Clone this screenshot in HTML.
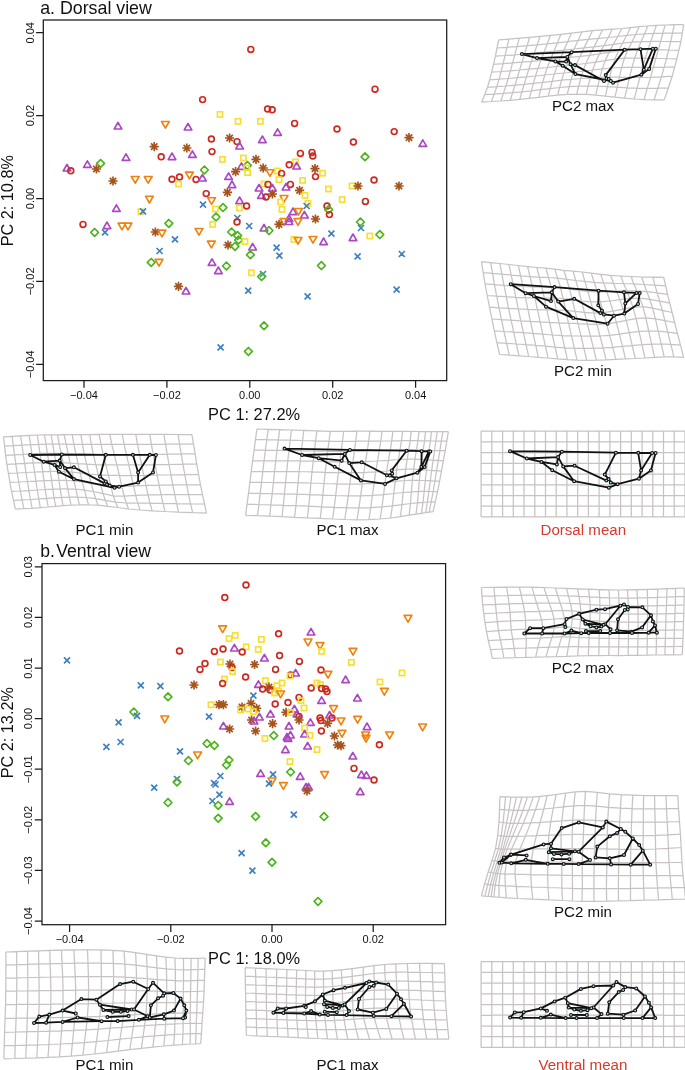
<!DOCTYPE html>
<html lang="en"><head><meta charset="utf-8"><title>PCA of dorsal and ventral views</title>
<style>
html,body{margin:0;padding:0;background:#fff}
body{width:685px;height:1070px;overflow:hidden}
svg{display:block;font-family:"Liberation Sans",Arial,Helvetica,sans-serif}
.ax{stroke:#1c1c1c;stroke-width:1.25;fill:none}
.pts *{fill:none;stroke-width:1.65}
.pts path{stroke-linejoin:round}
.grid{stroke:#c7c3c2;stroke-width:1.25;fill:none}
.wire{stroke:#111;stroke-width:1.8;fill:none;stroke-linecap:round}
.lm circle{fill:#a9dbe3;stroke:#111;stroke-width:1.1}
</style></head><body>
<svg width="685" height="1070" viewBox="0 0 685 1070">
<rect width="685" height="1070" fill="#fff"/>
<rect class="ax" x="43.3" y="20" width="403.4" height="360.6"/>
<path class="ax" d="M84.0 380.6V387.8M166.9 380.6V387.8M249.8 380.6V387.8M332.7 380.6V387.8M415.6 380.6V387.8M43.3 32.7H36.1M43.3 115.6H36.1M43.3 198.5H36.1M43.3 281.4H36.1M43.3 364.3H36.1"/>
<text x="84.0" y="398.7" font-size="11" text-anchor="middle" fill="#111">−0.04</text>
<text x="166.9" y="398.7" font-size="11" text-anchor="middle" fill="#111">−0.02</text>
<text x="249.8" y="398.7" font-size="11" text-anchor="middle" fill="#111">0.00</text>
<text x="332.7" y="398.7" font-size="11" text-anchor="middle" fill="#111">0.02</text>
<text x="415.6" y="398.7" font-size="11" text-anchor="middle" fill="#111">0.04</text>
<text x="33.6" y="32.7" font-size="11" text-anchor="middle" fill="#111" transform="rotate(-90 33.6 32.7)">0.04</text>
<text x="33.6" y="115.6" font-size="11" text-anchor="middle" fill="#111" transform="rotate(-90 33.6 115.6)">0.02</text>
<text x="33.6" y="198.5" font-size="11" text-anchor="middle" fill="#111" transform="rotate(-90 33.6 198.5)">0.00</text>
<text x="33.6" y="281.4" font-size="11" text-anchor="middle" fill="#111" transform="rotate(-90 33.6 281.4)">−0.02</text>
<text x="33.6" y="364.3" font-size="11" text-anchor="middle" fill="#111" transform="rotate(-90 33.6 364.3)">−0.04</text>
<text x="40.2" y="13.9" font-size="17.8" text-anchor="start" fill="#111">a. Dorsal view</text>
<text x="254.1" y="419.8" font-size="16.4" text-anchor="middle" fill="#111" textLength="92.0" lengthAdjust="spacingAndGlyphs">PC 1: 27.2%</text>
<text x="13.1" y="200.7" font-size="16.4" text-anchor="middle" fill="#111" transform="rotate(-90 13.1 200.7)" textLength="91.2" lengthAdjust="spacingAndGlyphs">PC 2: 10.8%</text>
<g class="pts">
<circle cx="250.8" cy="49.4" r="2.9" stroke="#cb2a20"/>
<circle cx="202.6" cy="99.6" r="2.9" stroke="#cb2a20"/>
<circle cx="267.6" cy="109.0" r="2.9" stroke="#cb2a20"/>
<circle cx="272.2" cy="109.8" r="2.9" stroke="#cb2a20"/>
<rect x="217.4" y="111.8" width="5.2" height="5.2" stroke="#f6df2f"/>
<rect x="235.4" y="118.7" width="5.2" height="5.2" stroke="#f6df2f"/>
<rect x="257.8" y="118.7" width="5.2" height="5.2" stroke="#f6df2f"/>
<circle cx="375.0" cy="89.2" r="2.9" stroke="#cb2a20"/>
<path d="M118.0 122.4L121.8 129.0L114.2 129.0Z" stroke="#ab47c2"/>
<path d="M165.4 128.2L169.3 121.5L161.5 121.5Z" stroke="#f0820f"/>
<path d="M149.6 146.6H158.8M154.2 142.0V151.2M151.0 143.4L157.4 149.8M151.0 149.8L157.4 143.4" stroke="#a5541c" stroke-width="1.55"/>
<circle cx="161.2" cy="156.8" r="2.9" stroke="#cb2a20"/>
<path d="M172.0 153.0L175.8 159.6L168.2 159.6Z" stroke="#ab47c2"/>
<path d="M126.0 153.8L129.8 160.4L122.2 160.4Z" stroke="#ab47c2"/>
<path d="M100.6 159.5L104.5 163.4L100.6 167.3L96.7 163.4Z" stroke="#4db51b"/>
<path d="M87.4 160.8L91.2 167.4L83.6 167.4Z" stroke="#ab47c2"/>
<path d="M67.0 164.4L70.8 171.0L63.2 171.0Z" stroke="#ab47c2"/>
<circle cx="70.8" cy="170.8" r="2.9" stroke="#cb2a20"/>
<path d="M91.8 169.0H101.0M96.4 164.4V173.6M93.2 165.8L99.6 172.2M93.2 172.2L99.6 165.8" stroke="#a5541c" stroke-width="1.55"/>
<path d="M108.4 181.0H117.6M113.0 176.4V185.6M109.8 177.8L116.2 184.2M109.8 184.2L116.2 177.8" stroke="#a5541c" stroke-width="1.55"/>
<path d="M135.2 183.2L139.1 176.5L131.3 176.5Z" stroke="#f0820f"/>
<path d="M148.2 183.2L152.1 176.5L144.3 176.5Z" stroke="#f0820f"/>
<circle cx="172.0" cy="179.2" r="2.9" stroke="#cb2a20"/>
<circle cx="179.5" cy="177.0" r="2.9" stroke="#cb2a20"/>
<rect x="175.9" y="181.4" width="5.2" height="5.2" stroke="#f6df2f"/>
<path d="M149.4 203.0L153.3 196.2L145.5 196.2Z" stroke="#f0820f"/>
<path d="M116.4 204.8L120.2 211.4L112.6 211.4Z" stroke="#ab47c2"/>
<rect x="138.2" y="209.2" width="5.2" height="5.2" stroke="#f6df2f"/>
<path d="M140.0 208.4L146.0 214.4M140.0 214.4L146.0 208.4" stroke="#3d7fbf"/>
<circle cx="294.6" cy="123.4" r="2.9" stroke="#cb2a20"/>
<path d="M188.0 123.4L191.8 130.0L184.2 130.0Z" stroke="#ab47c2"/>
<path d="M277.6 128.8L281.4 135.4L273.8 135.4Z" stroke="#ab47c2"/>
<circle cx="211.4" cy="139.0" r="2.9" stroke="#cb2a20"/>
<path d="M225.0 138.0H234.2M229.6 133.4V142.6M226.4 134.8L232.8 141.2M226.4 141.2L232.8 134.8" stroke="#a5541c" stroke-width="1.55"/>
<circle cx="237.0" cy="141.6" r="2.9" stroke="#cb2a20"/>
<path d="M262.4 136.0L266.2 142.6L258.6 142.6Z" stroke="#ab47c2"/>
<path d="M239.6 142.4L243.4 149.0L235.8 149.0Z" stroke="#ab47c2"/>
<path d="M182.2 148.0H191.4M186.8 143.4V152.6M183.6 144.8L190.0 151.2M183.6 151.2L190.0 144.8" stroke="#a5541c" stroke-width="1.55"/>
<circle cx="212.0" cy="151.6" r="2.9" stroke="#cb2a20"/>
<path d="M192.4 150.8L196.2 157.4L188.6 157.4Z" stroke="#ab47c2"/>
<circle cx="300.4" cy="153.4" r="2.9" stroke="#cb2a20"/>
<circle cx="312.0" cy="152.4" r="2.9" stroke="#cb2a20"/>
<circle cx="312.8" cy="156.0" r="2.9" stroke="#cb2a20"/>
<rect x="219.8" y="156.8" width="5.2" height="5.2" stroke="#f6df2f"/>
<rect x="240.8" y="155.4" width="5.2" height="5.2" stroke="#f6df2f"/>
<path d="M251.4 159.4H260.6M256.0 154.8V164.0M252.8 156.2L259.2 162.6M252.8 162.6L259.2 156.2" stroke="#a5541c" stroke-width="1.55"/>
<rect x="292.8" y="159.4" width="5.2" height="5.2" stroke="#f6df2f"/>
<circle cx="289.2" cy="164.8" r="2.9" stroke="#cb2a20"/>
<path d="M296.6 162.4L300.4 169.0L292.8 169.0Z" stroke="#ab47c2"/>
<path d="M247.4 161.5L251.3 165.4L247.4 169.3L243.5 165.4Z" stroke="#4db51b"/>
<path d="M241.4 162.8L245.2 169.4L237.6 169.4Z" stroke="#ab47c2"/>
<rect x="244.0" y="165.4" width="5.2" height="5.2" stroke="#f6df2f"/>
<path d="M258.6 168.0H267.8M263.2 163.4V172.6M260.0 164.8L266.4 171.2M260.0 171.2L266.4 164.8" stroke="#a5541c" stroke-width="1.55"/>
<path d="M310.4 168.6H319.6M315.0 164.0V173.2M311.8 165.4L318.2 171.8M311.8 171.8L318.2 165.4" stroke="#a5541c" stroke-width="1.55"/>
<path d="M204.4 166.1L208.3 170.0L204.4 173.9L200.5 170.0Z" stroke="#4db51b"/>
<path d="M231.0 171.6H240.2M235.6 167.0V176.2M232.4 168.4L238.8 174.8M232.4 174.8L238.8 168.4" stroke="#a5541c" stroke-width="1.55"/>
<rect x="245.0" y="170.0" width="5.2" height="5.2" stroke="#f6df2f"/>
<path d="M270.0 176.4L273.9 169.7L266.1 169.7Z" stroke="#f0820f"/>
<rect x="274.8" y="168.4" width="5.2" height="5.2" stroke="#f6df2f"/>
<circle cx="281.6" cy="173.4" r="2.9" stroke="#cb2a20"/>
<path d="M189.4 178.8L193.3 172.1L185.5 172.1Z" stroke="#f0820f"/>
<circle cx="196.0" cy="179.4" r="2.9" stroke="#cb2a20"/>
<path d="M202.4 174.4L206.2 181.0L198.6 181.0Z" stroke="#ab47c2"/>
<path d="M228.6 172.8L232.4 179.4L224.8 179.4Z" stroke="#ab47c2"/>
<circle cx="315.5" cy="176.6" r="2.9" stroke="#cb2a20"/>
<rect x="276.4" y="177.0" width="5.2" height="5.2" stroke="#f6df2f"/>
<rect x="300.0" y="177.8" width="5.2" height="5.2" stroke="#f6df2f"/>
<path d="M232.0 181.0L235.8 187.6L228.2 187.6Z" stroke="#ab47c2"/>
<rect x="261.4" y="181.4" width="5.2" height="5.2" stroke="#f6df2f"/>
<circle cx="268.0" cy="184.4" r="2.9" stroke="#cb2a20"/>
<circle cx="290.4" cy="184.4" r="2.9" stroke="#cb2a20"/>
<path d="M259.0 184.4L262.8 191.0L255.2 191.0Z" stroke="#ab47c2"/>
<path d="M272.4 184.4L276.2 191.0L268.6 191.0Z" stroke="#ab47c2"/>
<path d="M286.0 183.4L289.8 190.0L282.2 190.0Z" stroke="#ab47c2"/>
<path d="M295.0 190.4H304.2M299.6 185.8V195.0M296.4 187.2L302.8 193.6M296.4 193.6L302.8 187.2" stroke="#a5541c" stroke-width="1.55"/>
<path d="M222.8 192.4H232.0M227.4 187.8V197.0M224.2 189.2L230.6 195.6M224.2 195.6L230.6 189.2" stroke="#a5541c" stroke-width="1.55"/>
<circle cx="206.2" cy="193.6" r="2.9" stroke="#cb2a20"/>
<path d="M267.8 194.0H277.0M272.4 189.4V198.6M269.2 190.8L275.6 197.2M269.2 197.2L275.6 190.8" stroke="#a5541c" stroke-width="1.55"/>
<path d="M261.4 191.8L265.2 198.4L257.6 198.4Z" stroke="#ab47c2"/>
<circle cx="266.0" cy="197.0" r="2.9" stroke="#cb2a20"/>
<rect x="302.4" y="192.8" width="5.2" height="5.2" stroke="#f6df2f"/>
<path d="M284.0 202.2L287.9 195.5L280.1 195.5Z" stroke="#f0820f"/>
<path d="M211.6 204.4L215.5 197.7L207.7 197.7Z" stroke="#f0820f"/>
<path d="M239.6 197.0L243.4 203.6L235.8 203.6Z" stroke="#ab47c2"/>
<rect x="278.0" y="199.4" width="5.2" height="5.2" stroke="#f6df2f"/>
<rect x="305.4" y="200.8" width="5.2" height="5.2" stroke="#f6df2f"/>
<path d="M200.0 201.6L206.0 207.6M200.0 207.6L206.0 201.6" stroke="#3d7fbf"/>
<path d="M303.6 203.0L309.6 209.0M303.6 209.0L309.6 203.0" stroke="#3d7fbf"/>
<circle cx="246.6" cy="206.0" r="2.9" stroke="#cb2a20"/>
<rect x="236.8" y="205.4" width="5.2" height="5.2" stroke="#f6df2f"/>
<path d="M223.0 203.7L226.9 207.6L223.0 211.5L219.1 207.6Z" stroke="#4db51b"/>
<rect x="212.8" y="206.4" width="5.2" height="5.2" stroke="#f6df2f"/>
<rect x="279.4" y="206.8" width="5.2" height="5.2" stroke="#f6df2f"/>
<path d="M293.0 208.0L296.8 214.6L289.2 214.6Z" stroke="#ab47c2"/>
<path d="M298.4 215.2L302.3 208.5L294.5 208.5Z" stroke="#f0820f"/>
<path d="M304.4 211.4L308.2 218.0L300.6 218.0Z" stroke="#ab47c2"/>
<path d="M216.0 213.1L219.9 217.0L216.0 220.9L212.1 217.0Z" stroke="#4db51b"/>
<path d="M234.4 215.0L240.4 221.0M234.4 221.0L240.4 215.0" stroke="#3d7fbf"/>
<path d="M289.0 214.8L292.8 221.4L285.2 221.4Z" stroke="#ab47c2"/>
<path d="M310.9 219.0H320.1M315.5 214.4V223.6M312.3 215.8L318.7 222.2M312.3 222.2L318.7 215.8" stroke="#a5541c" stroke-width="1.55"/>
<path d="M284.0 225.3L287.9 218.6L280.1 218.6Z" stroke="#f0820f"/>
<path d="M298.0 225.3L301.9 218.6L294.1 218.6Z" stroke="#f0820f"/>
<circle cx="337.0" cy="129.0" r="2.9" stroke="#cb2a20"/>
<circle cx="394.2" cy="131.6" r="2.9" stroke="#cb2a20"/>
<path d="M404.4 137.6H413.6M409.0 133.0V142.2M405.8 134.4L412.2 140.8M405.8 140.8L412.2 134.4" stroke="#a5541c" stroke-width="1.55"/>
<path d="M422.8 139.8L426.6 146.4L419.0 146.4Z" stroke="#ab47c2"/>
<circle cx="353.4" cy="142.0" r="2.9" stroke="#cb2a20"/>
<path d="M365.0 152.9L368.9 156.8L365.0 160.7L361.1 156.8Z" stroke="#4db51b"/>
<rect x="320.0" y="170.6" width="5.2" height="5.2" stroke="#f6df2f"/>
<circle cx="374.0" cy="180.0" r="2.9" stroke="#cb2a20"/>
<rect x="349.4" y="183.4" width="5.2" height="5.2" stroke="#f6df2f"/>
<path d="M353.4 186.0H362.6M358.0 181.4V190.6M354.8 182.8L361.2 189.2M354.8 189.2L361.2 182.8" stroke="#a5541c" stroke-width="1.55"/>
<path d="M394.4 186.0H403.6M399.0 181.4V190.6M395.8 182.8L402.2 189.2M395.8 189.2L402.2 182.8" stroke="#a5541c" stroke-width="1.55"/>
<rect x="325.8" y="186.4" width="5.2" height="5.2" stroke="#f6df2f"/>
<rect x="339.6" y="197.0" width="5.2" height="5.2" stroke="#f6df2f"/>
<circle cx="365.4" cy="201.4" r="2.9" stroke="#cb2a20"/>
<circle cx="327.0" cy="206.0" r="2.9" stroke="#cb2a20"/>
<path d="M328.6 205.7L332.5 209.6L328.6 213.5L324.7 209.6Z" stroke="#4db51b"/>
<circle cx="329.4" cy="214.6" r="2.9" stroke="#cb2a20"/>
<path d="M360.4 218.1L364.3 222.0L360.4 225.9L356.5 222.0Z" stroke="#4db51b"/>
<circle cx="83.0" cy="224.4" r="2.9" stroke="#cb2a20"/>
<path d="M94.6 228.5L98.5 232.4L94.6 236.3L90.7 232.4Z" stroke="#4db51b"/>
<path d="M102.0 229.4L108.0 235.4M102.0 235.4L108.0 229.4" stroke="#3d7fbf"/>
<path d="M107.0 222.0L110.8 228.6L103.2 228.6Z" stroke="#ab47c2"/>
<path d="M122.0 229.8L125.9 223.1L118.1 223.1Z" stroke="#f0820f"/>
<path d="M128.0 229.8L131.9 223.1L124.1 223.1Z" stroke="#f0820f"/>
<path d="M168.8 219.5L172.7 223.4L168.8 227.3L164.9 223.4Z" stroke="#4db51b"/>
<path d="M150.8 232.0H160.0M155.4 227.4V236.6M152.2 228.8L158.6 235.2M152.2 235.2L158.6 228.8" stroke="#a5541c" stroke-width="1.55"/>
<path d="M162.0 236.8L165.9 230.1L158.1 230.1Z" stroke="#f0820f"/>
<path d="M172.0 236.4L178.0 242.4M172.0 242.4L178.0 236.4" stroke="#3d7fbf"/>
<path d="M156.6 248.0L162.6 254.0M156.6 254.0L162.6 248.0" stroke="#3d7fbf"/>
<path d="M151.2 258.5L155.1 262.4L151.2 266.3L147.3 262.4Z" stroke="#4db51b"/>
<path d="M159.0 266.2L162.9 259.4L155.1 259.4Z" stroke="#f0820f"/>
<path d="M173.9 286.4H183.1M178.5 281.8V291.0M175.3 283.2L181.7 289.6M175.3 289.6L181.7 283.2" stroke="#a5541c" stroke-width="1.55"/>
<rect x="210.0" y="221.8" width="5.2" height="5.2" stroke="#f6df2f"/>
<circle cx="237.0" cy="222.0" r="2.9" stroke="#cb2a20"/>
<path d="M246.2 223.0L252.2 229.0M246.2 229.0L252.2 223.0" stroke="#3d7fbf"/>
<path d="M264.0 224.4L267.8 231.0L260.2 231.0Z" stroke="#ab47c2"/>
<path d="M269.0 226.7L272.9 230.6L269.0 234.5L265.1 230.6Z" stroke="#4db51b"/>
<path d="M274.4 224.4H283.6M279.0 219.8V229.0M275.8 221.2L282.2 227.6M275.8 227.6L282.2 221.2" stroke="#a5541c" stroke-width="1.55"/>
<path d="M289.0 217.9L292.8 224.5L285.2 224.5Z" stroke="#ab47c2"/>
<path d="M199.0 235.2L202.9 228.5L195.1 228.5Z" stroke="#f0820f"/>
<path d="M231.6 228.1L235.5 232.0L231.6 235.9L227.7 232.0Z" stroke="#4db51b"/>
<path d="M237.6 231.7L241.5 235.6L237.6 239.5L233.7 235.6Z" stroke="#4db51b"/>
<path d="M238.6 236.1L242.5 240.0L238.6 243.9L234.7 240.0Z" stroke="#4db51b"/>
<rect x="242.4" y="239.0" width="5.2" height="5.2" stroke="#f6df2f"/>
<path d="M211.4 247.8L215.3 241.1L207.5 241.1Z" stroke="#f0820f"/>
<path d="M223.4 245.0H232.6M228.0 240.4V249.6M224.8 241.8L231.2 248.2M224.8 248.2L231.2 241.8" stroke="#a5541c" stroke-width="1.55"/>
<path d="M235.0 242.5L238.9 246.4L235.0 250.3L231.1 246.4Z" stroke="#4db51b"/>
<path d="M252.6 243.4L256.4 250.0L248.8 250.0Z" stroke="#ab47c2"/>
<rect x="291.4" y="236.8" width="5.2" height="5.2" stroke="#f6df2f"/>
<path d="M298.0 244.2L301.9 237.5L294.1 237.5Z" stroke="#f0820f"/>
<path d="M313.0 243.2L316.9 236.5L309.1 236.5Z" stroke="#f0820f"/>
<path d="M273.6 244.6L279.6 250.6M273.6 250.6L279.6 244.6" stroke="#3d7fbf"/>
<path d="M276.4 252.6L282.4 258.6M276.4 258.6L282.4 252.6" stroke="#3d7fbf"/>
<path d="M250.4 250.9L254.3 254.8L250.4 258.7L246.5 254.8Z" stroke="#4db51b"/>
<path d="M212.0 258.8L215.8 265.4L208.2 265.4Z" stroke="#ab47c2"/>
<path d="M226.4 262.1L230.3 266.0L226.4 269.9L222.5 266.0Z" stroke="#4db51b"/>
<path d="M218.4 267.0L222.2 273.6L214.6 273.6Z" stroke="#ab47c2"/>
<rect x="248.8" y="270.2" width="5.2" height="5.2" stroke="#f6df2f"/>
<path d="M260.0 271.0L266.0 277.0M260.0 277.0L266.0 271.0" stroke="#3d7fbf"/>
<path d="M261.6 272.7L265.5 276.6L261.6 280.5L257.7 276.6Z" stroke="#4db51b"/>
<path d="M186.0 287.4L189.8 294.0L182.2 294.0Z" stroke="#ab47c2"/>
<path d="M245.2 287.6L251.2 293.6M245.2 293.6L251.2 287.6" stroke="#3d7fbf"/>
<path d="M304.6 293.4L310.6 299.4M304.6 299.4L310.6 293.4" stroke="#3d7fbf"/>
<path d="M358.0 225.0L364.0 231.0M358.0 231.0L364.0 225.0" stroke="#3d7fbf"/>
<path d="M328.4 230.6L334.4 236.6M328.4 236.6L334.4 230.6" stroke="#3d7fbf"/>
<path d="M353.0 234.0L356.8 240.6L349.2 240.6Z" stroke="#ab47c2"/>
<rect x="367.2" y="233.4" width="5.2" height="5.2" stroke="#f6df2f"/>
<path d="M379.8 230.7L383.7 234.6L379.8 238.5L375.9 234.6Z" stroke="#4db51b"/>
<path d="M323.6 238.0L327.4 244.6L319.8 244.6Z" stroke="#ab47c2"/>
<path d="M354.6 253.4L360.6 259.4M354.6 259.4L360.6 253.4" stroke="#3d7fbf"/>
<path d="M398.8 251.0L404.8 257.0M398.8 257.0L404.8 251.0" stroke="#3d7fbf"/>
<path d="M321.4 261.7L325.3 265.6L321.4 269.5L317.5 265.6Z" stroke="#4db51b"/>
<path d="M393.6 286.6L399.6 292.6M393.6 292.6L399.6 286.6" stroke="#3d7fbf"/>
<path d="M264.0 321.9L267.9 325.8L264.0 329.7L260.1 325.8Z" stroke="#4db51b"/>
<path d="M217.6 344.4L223.6 350.4M217.6 350.4L223.6 344.4" stroke="#3d7fbf"/>
<path d="M248.4 347.5L252.3 351.4L248.4 355.3L244.5 351.4Z" stroke="#4db51b"/>
</g>
<rect class="ax" x="42" y="563.6" width="403.6" height="361.1"/>
<path class="ax" d="M69.6 924.7V931.9M170.8 924.7V931.9M272.0 924.7V931.9M373.2 924.7V931.9M42 566.8H34.8M42 617.4H34.8M42 668.0H34.8M42 718.6H34.8M42 769.2H34.8M42 819.8H34.8M42 870.4H34.8M42 921.0H34.8"/>
<text x="69.6" y="943.0" font-size="11" text-anchor="middle" fill="#111">−0.04</text>
<text x="170.8" y="943.0" font-size="11" text-anchor="middle" fill="#111">−0.02</text>
<text x="272.0" y="943.0" font-size="11" text-anchor="middle" fill="#111">0.00</text>
<text x="373.2" y="943.0" font-size="11" text-anchor="middle" fill="#111">0.02</text>
<text x="32.4" y="566.8" font-size="11" text-anchor="middle" fill="#111" transform="rotate(-90 32.4 566.8)">0.03</text>
<text x="32.4" y="617.4" font-size="11" text-anchor="middle" fill="#111" transform="rotate(-90 32.4 617.4)">0.02</text>
<text x="32.4" y="668.0" font-size="11" text-anchor="middle" fill="#111" transform="rotate(-90 32.4 668.0)">0.01</text>
<text x="32.4" y="718.6" font-size="11" text-anchor="middle" fill="#111" transform="rotate(-90 32.4 718.6)">0.00</text>
<text x="32.4" y="769.2" font-size="11" text-anchor="middle" fill="#111" transform="rotate(-90 32.4 769.2)">−0.01</text>
<text x="32.4" y="819.8" font-size="11" text-anchor="middle" fill="#111" transform="rotate(-90 32.4 819.8)">−0.02</text>
<text x="32.4" y="870.4" font-size="11" text-anchor="middle" fill="#111" transform="rotate(-90 32.4 870.4)">−0.03</text>
<text x="32.4" y="921.0" font-size="11" text-anchor="middle" fill="#111" transform="rotate(-90 32.4 921.0)">−0.04</text>
<text x="40.2" y="556.9" font-size="17.6" fill="#111">b.<tspan dx="-3.6"> Ventral view</tspan></text>
<text x="254.1" y="963.8" font-size="16.4" text-anchor="middle" fill="#111" textLength="92.0" lengthAdjust="spacingAndGlyphs">PC 1: 18.0%</text>
<text x="13.1" y="732.7" font-size="16.4" text-anchor="middle" fill="#111" transform="rotate(-90 13.1 732.7)" textLength="91.2" lengthAdjust="spacingAndGlyphs">PC 2: 13.2%</text>
<g class="pts">
<path d="M64.0 657.4L70.0 663.4M64.0 663.4L70.0 657.4" stroke="#3d7fbf"/>
<circle cx="179.5" cy="651.0" r="2.9" stroke="#cb2a20"/>
<circle cx="246.0" cy="585.0" r="2.9" stroke="#cb2a20"/>
<circle cx="224.8" cy="597.6" r="2.9" stroke="#cb2a20"/>
<path d="M222.6 632.6L226.5 625.8L218.7 625.8Z" stroke="#f0820f"/>
<rect x="232.6" y="632.8" width="5.2" height="5.2" stroke="#f6df2f"/>
<rect x="226.4" y="636.0" width="5.2" height="5.2" stroke="#f6df2f"/>
<circle cx="278.6" cy="633.8" r="2.9" stroke="#cb2a20"/>
<path d="M311.0 628.4L314.8 635.0L307.2 635.0Z" stroke="#ab47c2"/>
<rect x="258.8" y="636.8" width="5.2" height="5.2" stroke="#f6df2f"/>
<path d="M308.0 645.8L311.9 639.0L304.1 639.0Z" stroke="#f0820f"/>
<circle cx="214.4" cy="651.4" r="2.9" stroke="#cb2a20"/>
<circle cx="223.0" cy="649.0" r="2.9" stroke="#cb2a20"/>
<path d="M234.4 644.4L238.2 651.0L230.6 651.0Z" stroke="#ab47c2"/>
<rect x="243.6" y="644.2" width="5.2" height="5.2" stroke="#f6df2f"/>
<circle cx="242.2" cy="652.0" r="2.9" stroke="#cb2a20"/>
<rect x="255.6" y="646.8" width="5.2" height="5.2" stroke="#f6df2f"/>
<path d="M264.4 654.4L268.2 661.0L260.6 661.0Z" stroke="#ab47c2"/>
<circle cx="279.6" cy="655.6" r="2.9" stroke="#cb2a20"/>
<circle cx="299.4" cy="661.4" r="2.9" stroke="#cb2a20"/>
<circle cx="205.0" cy="663.6" r="2.9" stroke="#cb2a20"/>
<rect x="217.8" y="659.4" width="5.2" height="5.2" stroke="#f6df2f"/>
<path d="M225.4 664.0H234.6M230.0 659.4V668.6M226.8 660.8L233.2 667.2M226.8 667.2L233.2 660.8" stroke="#a5541c" stroke-width="1.55"/>
<path d="M250.0 664.5H259.2M254.6 659.9V669.1M251.4 661.3L257.8 667.7M251.4 667.7L257.8 661.3" stroke="#a5541c" stroke-width="1.55"/>
<path d="M408.0 622.2L411.9 615.4L404.1 615.4Z" stroke="#f0820f"/>
<path d="M320.0 649.4L323.9 642.6L316.1 642.6Z" stroke="#f0820f"/>
<rect x="319.0" y="648.8" width="5.2" height="5.2" stroke="#f6df2f"/>
<path d="M353.0 655.2L356.9 648.4L349.1 648.4Z" stroke="#f0820f"/>
<rect x="348.8" y="659.8" width="5.2" height="5.2" stroke="#f6df2f"/>
<path d="M137.8 682.4L143.8 688.4M137.8 688.4L143.8 682.4" stroke="#3d7fbf"/>
<path d="M157.4 683.2L163.4 689.2M157.4 689.2L163.4 683.2" stroke="#3d7fbf"/>
<path d="M168.0 692.9L171.9 696.8L168.0 700.7L164.1 696.8Z" stroke="#4db51b"/>
<path d="M133.8 708.1L137.7 712.0L133.8 715.9L129.9 712.0Z" stroke="#4db51b"/>
<path d="M134.0 712.8L140.0 718.8M134.0 718.8L140.0 712.8" stroke="#3d7fbf"/>
<path d="M164.8 722.8L168.7 716.0L160.9 716.0Z" stroke="#f0820f"/>
<path d="M115.6 719.4L121.6 725.4M115.6 725.4L121.6 719.4" stroke="#3d7fbf"/>
<path d="M117.6 739.0L123.6 745.0M117.6 745.0L123.6 739.0" stroke="#3d7fbf"/>
<path d="M103.4 743.8L109.4 749.8M103.4 749.8L109.4 743.8" stroke="#3d7fbf"/>
<path d="M177.0 748.4L183.0 754.4M177.0 754.4L183.0 748.4" stroke="#3d7fbf"/>
<circle cx="200.0" cy="669.4" r="2.9" stroke="#cb2a20"/>
<circle cx="232.0" cy="667.6" r="2.9" stroke="#cb2a20"/>
<rect x="230.0" y="669.0" width="5.2" height="5.2" stroke="#f6df2f"/>
<circle cx="275.6" cy="669.4" r="2.9" stroke="#cb2a20"/>
<path d="M295.6 669.4L299.4 676.0L291.8 676.0Z" stroke="#ab47c2"/>
<circle cx="290.6" cy="675.0" r="2.9" stroke="#cb2a20"/>
<rect x="287.4" y="673.4" width="5.2" height="5.2" stroke="#f6df2f"/>
<circle cx="245.6" cy="677.0" r="2.9" stroke="#cb2a20"/>
<rect x="221.8" y="676.4" width="5.2" height="5.2" stroke="#f6df2f"/>
<circle cx="222.6" cy="683.4" r="2.9" stroke="#cb2a20"/>
<path d="M189.4 685.0H198.6M194.0 680.4V689.6M190.8 681.8L197.2 688.2M190.8 688.2L197.2 681.8" stroke="#a5541c" stroke-width="1.55"/>
<rect x="262.8" y="678.0" width="5.2" height="5.2" stroke="#f6df2f"/>
<path d="M258.4 680.8L262.2 687.4L254.6 687.4Z" stroke="#ab47c2"/>
<rect x="279.4" y="680.4" width="5.2" height="5.2" stroke="#f6df2f"/>
<rect x="274.4" y="683.0" width="5.2" height="5.2" stroke="#f6df2f"/>
<path d="M264.4 687.0H273.6M269.0 682.4V691.6M265.8 683.8L272.2 690.2M265.8 690.2L272.2 683.8" stroke="#a5541c" stroke-width="1.55"/>
<circle cx="262.6" cy="689.0" r="2.9" stroke="#cb2a20"/>
<circle cx="270.0" cy="690.0" r="2.9" stroke="#cb2a20"/>
<rect x="275.8" y="688.4" width="5.2" height="5.2" stroke="#f6df2f"/>
<rect x="272.0" y="690.4" width="5.2" height="5.2" stroke="#f6df2f"/>
<path d="M280.6 697.8L284.5 691.0L276.7 691.0Z" stroke="#f0820f"/>
<circle cx="311.2" cy="688.0" r="2.9" stroke="#cb2a20"/>
<rect x="314.4" y="680.4" width="5.2" height="5.2" stroke="#f6df2f"/>
<path d="M250.4 692.6L256.4 698.6M250.4 698.6L256.4 692.6" stroke="#3d7fbf"/>
<circle cx="299.0" cy="697.4" r="2.9" stroke="#cb2a20"/>
<rect x="298.4" y="698.0" width="5.2" height="5.2" stroke="#f6df2f"/>
<circle cx="288.0" cy="702.6" r="2.9" stroke="#cb2a20"/>
<circle cx="275.2" cy="704.0" r="2.9" stroke="#cb2a20"/>
<rect x="208.4" y="702.2" width="5.2" height="5.2" stroke="#f6df2f"/>
<path d="M214.4 704.6H223.6M219.0 700.0V709.2M215.8 701.4L222.2 707.8M215.8 707.8L222.2 701.4" stroke="#a5541c" stroke-width="1.55"/>
<path d="M218.8 704.6H228.0M223.4 700.0V709.2M220.2 701.4L226.6 707.8M220.2 707.8L226.6 701.4" stroke="#a5541c" stroke-width="1.55"/>
<path d="M246.4 703.4H255.6M251.0 698.8V708.0M247.8 700.2L254.2 706.6M247.8 706.6L254.2 700.2" stroke="#a5541c" stroke-width="1.55"/>
<path d="M237.4 707.0H246.6M242.0 702.4V711.6M238.8 703.8L245.2 710.2M238.8 710.2L245.2 703.8" stroke="#a5541c" stroke-width="1.55"/>
<path d="M252.0 708.4H261.2M256.6 703.8V713.0M253.4 705.2L259.8 711.6M253.4 711.6L259.8 705.2" stroke="#a5541c" stroke-width="1.55"/>
<rect x="238.0" y="707.4" width="5.2" height="5.2" stroke="#f6df2f"/>
<rect x="245.4" y="706.4" width="5.2" height="5.2" stroke="#f6df2f"/>
<rect x="250.8" y="709.0" width="5.2" height="5.2" stroke="#f6df2f"/>
<rect x="301.4" y="705.4" width="5.2" height="5.2" stroke="#f6df2f"/>
<path d="M294.4 705.4L298.2 712.0L290.6 712.0Z" stroke="#ab47c2"/>
<path d="M281.4 712.4H290.6M286.0 707.8V717.0M282.8 709.2L289.2 715.6M282.8 715.6L289.2 709.2" stroke="#a5541c" stroke-width="1.55"/>
<rect x="288.0" y="710.0" width="5.2" height="5.2" stroke="#f6df2f"/>
<path d="M297.0 710.4L300.8 717.0L293.2 717.0Z" stroke="#ab47c2"/>
<circle cx="299.0" cy="716.4" r="2.9" stroke="#cb2a20"/>
<path d="M294.4 720.0H303.6M299.0 715.4V724.6M295.8 716.8L302.2 723.2M295.8 723.2L302.2 716.8" stroke="#a5541c" stroke-width="1.55"/>
<path d="M270.4 710.4L274.2 717.0L266.6 717.0Z" stroke="#ab47c2"/>
<path d="M259.4 713.4L263.2 720.0L255.6 720.0Z" stroke="#ab47c2"/>
<path d="M247.0 720.0H256.2M251.6 715.4V724.6M248.4 716.8L254.8 723.2M248.4 723.2L254.8 716.8" stroke="#a5541c" stroke-width="1.55"/>
<path d="M254.0 717.4L257.8 724.0L250.2 724.0Z" stroke="#ab47c2"/>
<path d="M206.0 713.6L212.0 719.6M206.0 719.6L212.0 713.6" stroke="#3d7fbf"/>
<path d="M268.0 723.6H277.2M272.6 719.0V728.2M269.4 720.4L275.8 726.8M269.4 726.8L275.8 720.4" stroke="#a5541c" stroke-width="1.55"/>
<path d="M310.4 718.8L314.2 725.4L306.6 725.4Z" stroke="#ab47c2"/>
<path d="M289.0 722.4L292.8 729.0L285.2 729.0Z" stroke="#ab47c2"/>
<rect x="302.0" y="725.4" width="5.2" height="5.2" stroke="#f6df2f"/>
<path d="M223.4 722.4L227.2 729.0L219.6 729.0Z" stroke="#ab47c2"/>
<path d="M225.0 729.0H234.2M229.6 724.4V733.6M226.4 725.8L232.8 732.2M226.4 732.2L232.8 725.8" stroke="#a5541c" stroke-width="1.55"/>
<path d="M251.0 731.0H260.2M255.6 726.4V735.6M252.4 727.8L258.8 734.2M252.4 734.2L258.8 727.8" stroke="#a5541c" stroke-width="1.55"/>
<path d="M304.6 730.4L308.4 737.0L300.8 737.0Z" stroke="#ab47c2"/>
<rect x="307.4" y="732.8" width="5.2" height="5.2" stroke="#f6df2f"/>
<path d="M290.4 731.4L294.2 738.0L286.6 738.0Z" stroke="#ab47c2"/>
<path d="M288.0 734.8L291.8 741.4L284.2 741.4Z" stroke="#ab47c2"/>
<path d="M287.0 733.4L290.8 740.0L283.2 740.0Z" stroke="#ab47c2"/>
<path d="M273.8 731.7L277.7 735.6L273.8 739.5L269.9 735.6Z" stroke="#4db51b"/>
<rect x="262.4" y="735.8" width="5.2" height="5.2" stroke="#f6df2f"/>
<path d="M207.0 739.7L210.9 743.6L207.0 747.5L203.1 743.6Z" stroke="#4db51b"/>
<path d="M214.4 741.5L218.3 745.4L214.4 749.3L210.5 745.4Z" stroke="#4db51b"/>
<path d="M307.6 742.4L311.4 749.0L303.8 749.0Z" stroke="#ab47c2"/>
<path d="M285.4 746.0L289.2 752.6L281.6 752.6Z" stroke="#ab47c2"/>
<rect x="314.4" y="747.0" width="5.2" height="5.2" stroke="#f6df2f"/>
<path d="M197.6 758.8L201.5 752.0L193.7 752.0Z" stroke="#f0820f"/>
<path d="M188.4 756.7L192.3 760.6L188.4 764.5L184.5 760.6Z" stroke="#4db51b"/>
<path d="M229.0 756.1L232.9 760.0L229.0 763.9L225.1 760.0Z" stroke="#4db51b"/>
<path d="M226.5 761.1L230.4 765.0L226.5 768.9L222.6 765.0Z" stroke="#4db51b"/>
<rect x="287.4" y="759.0" width="5.2" height="5.2" stroke="#f6df2f"/>
<circle cx="321.0" cy="670.0" r="2.9" stroke="#cb2a20"/>
<path d="M328.0 678.2L331.9 671.4L324.1 671.4Z" stroke="#f0820f"/>
<rect x="399.4" y="670.4" width="5.2" height="5.2" stroke="#f6df2f"/>
<path d="M345.6 676.0L349.4 682.6L341.8 682.6Z" stroke="#ab47c2"/>
<rect x="377.4" y="679.4" width="5.2" height="5.2" stroke="#f6df2f"/>
<rect x="317.8" y="682.0" width="5.2" height="5.2" stroke="#f6df2f"/>
<circle cx="321.6" cy="688.4" r="2.9" stroke="#cb2a20"/>
<circle cx="325.6" cy="689.0" r="2.9" stroke="#cb2a20"/>
<circle cx="327.0" cy="691.6" r="2.9" stroke="#cb2a20"/>
<path d="M384.4 695.2L388.3 688.4L380.5 688.4Z" stroke="#f0820f"/>
<path d="M321.6 696.8L325.4 703.4L317.8 703.4Z" stroke="#ab47c2"/>
<path d="M357.4 694.4L361.2 701.0L353.6 701.0Z" stroke="#ab47c2"/>
<path d="M333.6 712.4L337.5 705.6L329.7 705.6Z" stroke="#f0820f"/>
<path d="M329.6 711.4L333.4 718.0L325.8 718.0Z" stroke="#ab47c2"/>
<circle cx="320.0" cy="718.0" r="2.9" stroke="#cb2a20"/>
<circle cx="321.0" cy="720.6" r="2.9" stroke="#cb2a20"/>
<circle cx="332.0" cy="718.0" r="2.9" stroke="#cb2a20"/>
<path d="M323.0 723.4H332.2M327.6 718.8V728.0M324.4 720.2L330.8 726.6M324.4 726.6L330.8 720.2" stroke="#a5541c" stroke-width="1.55"/>
<path d="M341.0 724.8L344.9 718.0L337.1 718.0Z" stroke="#f0820f"/>
<path d="M357.6 723.2L361.5 716.4L353.7 716.4Z" stroke="#f0820f"/>
<path d="M367.0 723.0L370.8 729.6L363.2 729.6Z" stroke="#ab47c2"/>
<path d="M422.6 730.8L426.5 724.0L418.7 724.0Z" stroke="#f0820f"/>
<circle cx="321.4" cy="731.0" r="2.9" stroke="#cb2a20"/>
<path d="M342.0 737.2L345.9 730.4L338.1 730.4Z" stroke="#f0820f"/>
<path d="M329.8 736.0H339.0M334.4 731.4V740.6M331.2 732.8L337.6 739.2M331.2 739.2L337.6 732.8" stroke="#a5541c" stroke-width="1.55"/>
<path d="M365.6 738.8L369.5 732.0L361.7 732.0Z" stroke="#f0820f"/>
<path d="M366.0 742.2L369.9 735.4L362.1 735.4Z" stroke="#f0820f"/>
<path d="M389.6 738.8L393.5 732.0L385.7 732.0Z" stroke="#f0820f"/>
<path d="M333.0 745.0H342.2M337.6 740.4V749.6M334.4 741.8L340.8 748.2M334.4 748.2L340.8 741.8" stroke="#a5541c" stroke-width="1.55"/>
<path d="M336.4 745.6H345.6M341.0 741.0V750.2M337.8 742.4L344.2 748.8M337.8 748.8L344.2 742.4" stroke="#a5541c" stroke-width="1.55"/>
<circle cx="379.4" cy="744.8" r="2.9" stroke="#cb2a20"/>
<path d="M352.8 752.4L356.6 759.0L349.0 759.0Z" stroke="#ab47c2"/>
<path d="M151.2 784.6L157.2 790.6M151.2 790.6L157.2 784.6" stroke="#3d7fbf"/>
<path d="M174.0 776.0L180.0 782.0M174.0 782.0L180.0 776.0" stroke="#3d7fbf"/>
<path d="M177.0 778.1L180.9 782.0L177.0 785.9L173.1 782.0Z" stroke="#4db51b"/>
<path d="M168.0 798.7L171.9 802.6L168.0 806.5L164.1 802.6Z" stroke="#4db51b"/>
<path d="M217.4 773.0L223.4 779.0M217.4 779.0L223.4 773.0" stroke="#3d7fbf"/>
<path d="M211.0 780.0L217.0 786.0M211.0 786.0L217.0 780.0" stroke="#3d7fbf"/>
<path d="M212.5 781.5L218.5 787.5M212.5 787.5L218.5 781.5" stroke="#3d7fbf"/>
<path d="M260.6 769.8L264.4 776.4L256.8 776.4Z" stroke="#ab47c2"/>
<path d="M270.0 771.4L276.0 777.4M270.0 777.4L276.0 771.4" stroke="#3d7fbf"/>
<path d="M290.6 768.1L294.5 772.0L290.6 775.9L286.7 772.0Z" stroke="#4db51b"/>
<path d="M300.2 772.8L304.0 779.4L296.4 779.4Z" stroke="#ab47c2"/>
<path d="M272.0 784.8L275.9 778.0L268.1 778.0Z" stroke="#f0820f"/>
<path d="M266.0 780.6L272.0 786.6M266.0 786.6L272.0 780.6" stroke="#3d7fbf"/>
<path d="M283.4 789.4L287.3 782.6L279.5 782.6Z" stroke="#f0820f"/>
<path d="M306.0 783.4L309.8 790.0L302.2 790.0Z" stroke="#ab47c2"/>
<path d="M308.5 783.4L312.3 790.0L304.7 790.0Z" stroke="#ab47c2"/>
<path d="M302.4 791.0H311.6M307.0 786.4V795.6M303.8 787.8L310.2 794.2M303.8 794.2L310.2 787.8" stroke="#a5541c" stroke-width="1.55"/>
<path d="M216.4 791.6L222.4 797.6M216.4 797.6L222.4 791.6" stroke="#3d7fbf"/>
<path d="M209.4 798.0L215.4 804.0M209.4 804.0L215.4 798.0" stroke="#3d7fbf"/>
<path d="M229.6 797.8L233.4 804.4L225.8 804.4Z" stroke="#ab47c2"/>
<path d="M218.2 801.5L222.1 805.4L218.2 809.3L214.3 805.4Z" stroke="#4db51b"/>
<path d="M218.2 814.3L222.1 818.2L218.2 822.1L214.3 818.2Z" stroke="#4db51b"/>
<path d="M255.6 812.5L259.5 816.4L255.6 820.3L251.7 816.4Z" stroke="#4db51b"/>
<path d="M290.8 811.6L296.8 817.6M290.8 817.6L296.8 811.6" stroke="#3d7fbf"/>
<path d="M265.8 838.9L269.7 842.8L265.8 846.7L261.9 842.8Z" stroke="#4db51b"/>
<path d="M238.6 850.2L244.6 856.2M238.6 856.2L244.6 850.2" stroke="#3d7fbf"/>
<path d="M272.0 858.4L275.9 862.3L272.0 866.2L268.1 862.3Z" stroke="#4db51b"/>
<circle cx="354.0" cy="768.4" r="2.9" stroke="#cb2a20"/>
<path d="M324.6 778.4L328.5 771.6L320.7 771.6Z" stroke="#f0820f"/>
<path d="M361.4 771.0L365.2 777.6L357.6 777.6Z" stroke="#ab47c2"/>
<path d="M366.4 771.8L370.2 778.4L362.6 778.4Z" stroke="#ab47c2"/>
<circle cx="374.0" cy="780.0" r="2.9" stroke="#cb2a20"/>
<path d="M360.2 788.0L364.0 794.6L356.4 794.6Z" stroke="#ab47c2"/>
<path d="M324.0 812.7L327.9 816.6L324.0 820.5L320.1 816.6Z" stroke="#4db51b"/>
<path d="M249.4 867.6L255.4 873.6M249.4 873.6L255.4 867.6" stroke="#3d7fbf"/>
<path d="M318.0 897.5L321.9 901.4L318.0 905.3L314.1 901.4Z" stroke="#4db51b"/>
</g>
<text x="583" y="111.2" font-size="15.1" text-anchor="middle" fill="#111">PC2 max</text>
<text x="583" y="375.5" font-size="15.1" text-anchor="middle" fill="#111">PC2 min</text>
<text x="104.4" y="534.6" font-size="15.1" text-anchor="middle" fill="#111">PC1 min</text>
<text x="347.5" y="534.6" font-size="15.1" text-anchor="middle" fill="#111">PC1 max</text>
<text x="583.3" y="534.5" font-size="15.1" text-anchor="middle" fill="#d63a2f">Dorsal mean</text>
<text x="582.8" y="672.5" font-size="15.1" text-anchor="middle" fill="#111">PC2 max</text>
<text x="583" y="916.6" font-size="15.1" text-anchor="middle" fill="#111">PC2 min</text>
<text x="104.4" y="1069.9" font-size="15.1" text-anchor="middle" fill="#111">PC1 min</text>
<text x="347.5" y="1069.9" font-size="15.1" text-anchor="middle" fill="#111">PC1 max</text>
<text x="582.9" y="1069.9" font-size="15.1" text-anchor="middle" fill="#d63a2f">Ventral mean</text>
<g>
<path class="grid" d="M481.1 431.1L491.8 431.1L502.6 431.1L513.3 431.1L524 431.1L534.8 431.1L545.5 431.1L556.2 431.1L566.9 431.1L577.7 431.1L588.4 431.1L599.1 431.1L609.9 431.1L620.6 431.1L631.3 431.1L642.1 431.1L652.8 431.1L663.5 431.1L674.2 431.1L685 431.1M481.1 441.8L491.8 441.8L502.6 441.8L513.3 441.8L524 441.8L534.8 441.8L545.5 441.8L556.2 441.8L566.9 441.8L577.7 441.8L588.4 441.8L599.1 441.8L609.9 441.8L620.6 441.8L631.3 441.8L642.1 441.8L652.8 441.8L663.5 441.8L674.2 441.8L685 441.8M481.1 452.6L491.8 452.6L502.6 452.6L513.3 452.6L524 452.6L534.8 452.6L545.5 452.6L556.2 452.6L566.9 452.6L577.7 452.6L588.4 452.6L599.1 452.6L609.9 452.6L620.6 452.6L631.3 452.6L642.1 452.6L652.8 452.6L663.5 452.6L674.2 452.6L685 452.6M481.1 463.3L491.8 463.3L502.6 463.3L513.3 463.3L524 463.3L534.8 463.3L545.5 463.3L556.2 463.3L566.9 463.3L577.7 463.3L588.4 463.3L599.1 463.3L609.9 463.3L620.6 463.3L631.3 463.3L642.1 463.3L652.8 463.3L663.5 463.3L674.2 463.3L685 463.3M481.1 474L491.8 474L502.6 474L513.3 474L524 474L534.8 474L545.5 474L556.2 474L566.9 474L577.7 474L588.4 474L599.1 474L609.9 474L620.6 474L631.3 474L642.1 474L652.8 474L663.5 474L674.2 474L685 474M481.1 484.8L491.8 484.8L502.6 484.8L513.3 484.8L524 484.8L534.8 484.8L545.5 484.8L556.2 484.8L566.9 484.8L577.7 484.8L588.4 484.8L599.1 484.8L609.9 484.8L620.6 484.8L631.3 484.8L642.1 484.8L652.8 484.8L663.5 484.8L674.2 484.8L685 484.8M481.1 495.5L491.8 495.5L502.6 495.5L513.3 495.5L524 495.5L534.8 495.5L545.5 495.5L556.2 495.5L566.9 495.5L577.7 495.5L588.4 495.5L599.1 495.5L609.9 495.5L620.6 495.5L631.3 495.5L642.1 495.5L652.8 495.5L663.5 495.5L674.2 495.5L685 495.5M481.1 506.2L491.8 506.2L502.6 506.2L513.3 506.2L524 506.2L534.8 506.2L545.5 506.2L556.2 506.2L566.9 506.2L577.7 506.2L588.4 506.2L599.1 506.2L609.9 506.2L620.6 506.2L631.3 506.2L642.1 506.2L652.8 506.2L663.5 506.2L674.2 506.2L685 506.2M481.1 516.9L491.8 516.9L502.6 516.9L513.3 516.9L524 516.9L534.8 516.9L545.5 516.9L556.2 516.9L566.9 516.9L577.7 516.9L588.4 516.9L599.1 516.9L609.9 516.9L620.6 516.9L631.3 516.9L642.1 516.9L652.8 516.9L663.5 516.9L674.2 516.9L685 516.9M481.1 431.1L481.1 441.8L481.1 452.6L481.1 463.3L481.1 474L481.1 484.8L481.1 495.5L481.1 506.2L481.1 516.9M491.8 431.1L491.8 441.8L491.8 452.6L491.8 463.3L491.8 474L491.8 484.8L491.8 495.5L491.8 506.2L491.8 516.9M502.6 431.1L502.6 441.8L502.6 452.6L502.6 463.3L502.6 474L502.6 484.8L502.6 495.5L502.6 506.2L502.6 516.9M513.3 431.1L513.3 441.8L513.3 452.6L513.3 463.3L513.3 474L513.3 484.8L513.3 495.5L513.3 506.2L513.3 516.9M524 431.1L524 441.8L524 452.6L524 463.3L524 474L524 484.8L524 495.5L524 506.2L524 516.9M534.8 431.1L534.8 441.8L534.8 452.6L534.8 463.3L534.8 474L534.8 484.8L534.8 495.5L534.8 506.2L534.8 516.9M545.5 431.1L545.5 441.8L545.5 452.6L545.5 463.3L545.5 474L545.5 484.8L545.5 495.5L545.5 506.2L545.5 516.9M556.2 431.1L556.2 441.8L556.2 452.6L556.2 463.3L556.2 474L556.2 484.8L556.2 495.5L556.2 506.2L556.2 516.9M566.9 431.1L566.9 441.8L566.9 452.6L566.9 463.3L566.9 474L566.9 484.8L566.9 495.5L566.9 506.2L566.9 516.9M577.7 431.1L577.7 441.8L577.7 452.6L577.7 463.3L577.7 474L577.7 484.8L577.7 495.5L577.7 506.2L577.7 516.9M588.4 431.1L588.4 441.8L588.4 452.6L588.4 463.3L588.4 474L588.4 484.8L588.4 495.5L588.4 506.2L588.4 516.9M599.1 431.1L599.1 441.8L599.1 452.6L599.1 463.3L599.1 474L599.1 484.8L599.1 495.5L599.1 506.2L599.1 516.9M609.9 431.1L609.9 441.8L609.9 452.6L609.9 463.3L609.9 474L609.9 484.8L609.9 495.5L609.9 506.2L609.9 516.9M620.6 431.1L620.6 441.8L620.6 452.6L620.6 463.3L620.6 474L620.6 484.8L620.6 495.5L620.6 506.2L620.6 516.9M631.3 431.1L631.3 441.8L631.3 452.6L631.3 463.3L631.3 474L631.3 484.8L631.3 495.5L631.3 506.2L631.3 516.9M642.1 431.1L642.1 441.8L642.1 452.6L642.1 463.3L642.1 474L642.1 484.8L642.1 495.5L642.1 506.2L642.1 516.9M652.8 431.1L652.8 441.8L652.8 452.6L652.8 463.3L652.8 474L652.8 484.8L652.8 495.5L652.8 506.2L652.8 516.9M663.5 431.1L663.5 441.8L663.5 452.6L663.5 463.3L663.5 474L663.5 484.8L663.5 495.5L663.5 506.2L663.5 516.9M674.2 431.1L674.2 441.8L674.2 452.6L674.2 463.3L674.2 474L674.2 484.8L674.2 495.5L674.2 506.2L674.2 516.9M685 431.1L685 441.8L685 452.6L685 463.3L685 474L685 484.8L685 495.5L685 506.2L685 516.9"/>
<path class="wire" d="M510 451.2L561.9 451.7M561.9 451.7L615.9 452.7M615.9 452.7L638.2 452.8M638.2 452.8L652.1 453M652.1 453L655.6 453M510 451.2L526.8 458.5M526.8 458.5L558.1 457.1M526.8 458.5L541.4 461.9M541.4 461.9L556.9 464.4M558.1 457.1L556.9 464.4M561.9 451.7L558.1 457.1M541.4 461.9L552.2 470.2M552.2 470.2L574.1 481.2M558.1 457.1L563.2 466.4M563.2 466.4L574.1 481.2M563.2 466.4L574.6 465.7M574.6 465.7L606.4 480.6M574.1 481.2L608.9 487.7M608.9 487.7L617.6 484.2M617.6 484.2L638.9 478.7M638.9 478.7L641.1 470.4M641.1 470.4L638.2 452.8M641.1 470.4L652.1 453M655.6 453L650.9 470.4M650.9 470.4L638.9 478.7M615.9 452.7L604.8 474.6M604.8 474.6L608.6 479.1M608.6 479.1L610.8 482.6M610.8 482.6L617.6 484.2M606.4 480.6L608.6 479.1"/><g class="lm"><circle cx="510" cy="451.2" r="1.45"/><circle cx="561.9" cy="451.7" r="1.45"/><circle cx="526.8" cy="458.5" r="1.45"/><circle cx="558.1" cy="457.1" r="1.45"/><circle cx="541.4" cy="461.9" r="1.45"/><circle cx="556.9" cy="464.4" r="1.45"/><circle cx="552.2" cy="470.2" r="1.45"/><circle cx="563.2" cy="466.4" r="1.45"/><circle cx="574.6" cy="465.7" r="1.45"/><circle cx="574.1" cy="481.2" r="1.45"/><circle cx="615.9" cy="452.7" r="1.45"/><circle cx="638.2" cy="452.8" r="1.45"/><circle cx="652.1" cy="453" r="1.45"/><circle cx="655.6" cy="453" r="1.45"/><circle cx="641.1" cy="470.4" r="1.45"/><circle cx="650.9" cy="470.4" r="1.45"/><circle cx="638.9" cy="478.7" r="1.45"/><circle cx="604.8" cy="474.6" r="1.45"/><circle cx="606.4" cy="480.6" r="1.45"/><circle cx="608.6" cy="479.1" r="1.45"/><circle cx="610.8" cy="482.6" r="1.45"/><circle cx="617.6" cy="484.2" r="1.45"/><circle cx="608.9" cy="487.7" r="1.45"/></g>
</g>
<g>
<path class="grid" d="M498.7 39.8L508.9 39.1L519.3 38.2L529.7 37.3L540.1 36.4L550.4 35.4L560.9 34.3L571.4 33.1L582 31.8L592.4 30.7L602.5 29.9L612.3 29.2L621.8 28.5L630.6 27.6L639.2 26.7L647.8 26L656.4 25.4L665.1 25L674.3 24.7L683.7 24.6M497 48L507 47.3L517 46.6L527.1 45.7L537.2 44.8L547.3 43.8L557.5 42.8L567.8 41.6L578.1 40.4L588.4 39.3L598.4 38.4L608.2 37.5L617.7 36.5L626.8 35.4L635.6 34.5L644.6 33.8L653.6 33.4L662.9 33.2L672.5 33.1L682.3 33.1M495.4 56.2L505.1 55.5L514.8 54.8L524.5 54L534.3 53.1L544 52.2L553.9 51.2L564 50.1L574.1 49L584.1 47.9L594 46.9L603.8 45.7L613.3 44.4L622.5 43.2L631.8 42.2L641.2 41.6L650.8 41.4L660.7 41.4L670.7 41.5L680.9 41.7M493.5 64.3L503.1 63.6L512.6 62.9L522 62.1L531.4 61.3L540.9 60.4L550.5 59.5L560.3 58.5L570.2 57.4L580 56.4L589.7 55.3L599.4 53.9L609 52.4L618.4 51L627.9 50L637.8 49.6L648 49.6L658.3 49.7L668.7 50L678.9 50.3M491.6 72.2L501.1 71.5L510.4 70.8L519.6 70L528.8 69.2L538 68.4L547.3 67.5L557 66.4L566.7 65.4L576.3 64.5L585.9 63.5L595.6 62.1L605.3 60.6L614.8 59.2L624.4 58.2L634.7 58L645.2 58.2L655.9 58.3L666.5 58.5L676.8 58.9M489.7 79.8L499.1 79.2L508.2 78.5L517.3 77.7L526.4 76.9L535.5 76L544.8 75L554.3 74L563.9 73L573.5 72L583 71.1L592.6 70L602.3 68.9L611.9 68L621.7 67.4L632 67.3L642.6 67.4L653.3 67.4L664.2 67.2L674.7 67.1M487.5 87.3L496.8 86.7L505.9 86L515 85.2L524.2 84.4L533.4 83.4L542.7 82.4L552.1 81.3L561.6 80.2L571.1 79.3L580.7 78.5L590.3 77.9L599.9 77.4L609.6 77.2L619.4 77.2L629.5 77.4L639.9 77.5L650.6 77.4L661.4 76.8L672.2 76.2M484.7 94.7L494.1 94.1L503.4 93.4L512.6 92.7L521.9 91.8L531.3 90.8L540.7 89.7L550.2 88.6L559.6 87.5L569.2 86.6L578.7 86.1L588.2 85.9L597.8 86.1L607.5 86.6L617.2 87.2L627.1 87.8L637.1 88.2L647.3 88.4L657.9 88.1L668.4 87.8M481.7 102.1L491.3 101.5L500.8 101L510.2 100.3L519.7 99.4L529.2 98.4L538.7 97.3L548.2 96.2L557.7 95.2L567.2 94.4L576.7 94.1L586.2 94.3L595.8 95.1L605.4 96.2L615 97.2L624.6 98.2L634.2 99L644 99.6L654.1 99.8L664.3 99.9M498.7 39.8L497 48L495.4 56.2L493.5 64.3L491.6 72.2L489.7 79.8L487.5 87.3L484.7 94.7L481.7 102.1M508.9 39.1L507 47.3L505.1 55.5L503.1 63.6L501.1 71.5L499.1 79.2L496.8 86.7L494.1 94.1L491.3 101.5M519.3 38.2L517 46.6L514.8 54.8L512.6 62.9L510.4 70.8L508.2 78.5L505.9 86L503.4 93.4L500.8 101M529.7 37.3L527.1 45.7L524.5 54L522 62.1L519.6 70L517.3 77.7L515 85.2L512.6 92.7L510.2 100.3M540.1 36.4L537.2 44.8L534.3 53.1L531.4 61.3L528.8 69.2L526.4 76.9L524.2 84.4L521.9 91.8L519.7 99.4M550.4 35.4L547.3 43.8L544 52.2L540.9 60.4L538 68.4L535.5 76L533.4 83.4L531.3 90.8L529.2 98.4M560.9 34.3L557.5 42.8L553.9 51.2L550.5 59.5L547.3 67.5L544.8 75L542.7 82.4L540.7 89.7L538.7 97.3M571.4 33.1L567.8 41.6L564 50.1L560.3 58.5L557 66.4L554.3 74L552.1 81.3L550.2 88.6L548.2 96.2M582 31.8L578.1 40.4L574.1 49L570.2 57.4L566.7 65.4L563.9 73L561.6 80.2L559.6 87.5L557.7 95.2M592.4 30.7L588.4 39.3L584.1 47.9L580 56.4L576.3 64.5L573.5 72L571.1 79.3L569.2 86.6L567.2 94.4M602.5 29.9L598.4 38.4L594 46.9L589.7 55.3L585.9 63.5L583 71.1L580.7 78.5L578.7 86.1L576.7 94.1M612.3 29.2L608.2 37.5L603.8 45.7L599.4 53.9L595.6 62.1L592.6 70L590.3 77.9L588.2 85.9L586.2 94.3M621.8 28.5L617.7 36.5L613.3 44.4L609 52.4L605.3 60.6L602.3 68.9L599.9 77.4L597.8 86.1L595.8 95.1M630.6 27.6L626.8 35.4L622.5 43.2L618.4 51L614.8 59.2L611.9 68L609.6 77.2L607.5 86.6L605.4 96.2M639.2 26.7L635.6 34.5L631.8 42.2L627.9 50L624.4 58.2L621.7 67.4L619.4 77.2L617.2 87.2L615 97.2M647.8 26L644.6 33.8L641.2 41.6L637.8 49.6L634.7 58L632 67.3L629.5 77.4L627.1 87.8L624.6 98.2M656.4 25.4L653.6 33.4L650.8 41.4L648 49.6L645.2 58.2L642.6 67.4L639.9 77.5L637.1 88.2L634.2 99M665.1 25L662.9 33.2L660.7 41.4L658.3 49.7L655.9 58.3L653.3 67.4L650.6 77.4L647.3 88.4L644 99.6M674.3 24.7L672.5 33.1L670.7 41.5L668.7 50L666.5 58.5L664.2 67.2L661.4 76.8L657.9 88.1L654.1 99.8M683.7 24.6L682.3 33.1L680.9 41.7L678.9 50.3L676.8 58.9L674.7 67.1L672.2 76.2L668.4 87.8L664.3 99.9"/>
<path class="wire" d="M521.9 54.1L571.6 52.2M571.6 52.2L624.7 49.7M624.7 49.7L640.5 49.2M640.5 49.2L652.9 48.7M652.9 48.7L655.8 48.7M521.9 54.1L537 58.1M537 58.1L567.3 56.9M537 58.1L555.4 61.4M555.4 61.4L566.1 61.6M567.3 56.9L566.1 61.6M571.6 52.2L567.3 56.9M555.4 61.4L562.7 65.7M562.7 65.7L575.4 74.1M567.3 56.9L570.5 64.3M570.5 64.3L575.4 74.1M570.5 64.3L575 65.1M575 65.1L604 81M575.4 74.1L610.8 81M610.8 81L613 82.7M613 82.7L641.4 74.7M641.4 74.7L643.8 69.7M643.8 69.7L640.5 49.2M643.8 69.7L652.9 48.7M655.8 48.7L649.2 68.9M649.2 68.9L641.4 74.7M624.7 49.7L605.7 75.1M605.7 75.1L606.6 78.5M606.6 78.5L608.8 79M608.8 79L613 82.7M604 81L606.6 78.5"/><g class="lm"><circle cx="521.9" cy="54.1" r="1.45"/><circle cx="571.6" cy="52.2" r="1.45"/><circle cx="537" cy="58.1" r="1.45"/><circle cx="567.3" cy="56.9" r="1.45"/><circle cx="555.4" cy="61.4" r="1.45"/><circle cx="566.1" cy="61.6" r="1.45"/><circle cx="562.7" cy="65.7" r="1.45"/><circle cx="570.5" cy="64.3" r="1.45"/><circle cx="575" cy="65.1" r="1.45"/><circle cx="575.4" cy="74.1" r="1.45"/><circle cx="624.7" cy="49.7" r="1.45"/><circle cx="640.5" cy="49.2" r="1.45"/><circle cx="652.9" cy="48.7" r="1.45"/><circle cx="655.8" cy="48.7" r="1.45"/><circle cx="643.8" cy="69.7" r="1.45"/><circle cx="649.2" cy="68.9" r="1.45"/><circle cx="641.4" cy="74.7" r="1.45"/><circle cx="605.7" cy="75.1" r="1.45"/><circle cx="604" cy="81" r="1.45"/><circle cx="606.6" cy="78.5" r="1.45"/><circle cx="608.8" cy="79" r="1.45"/><circle cx="613" cy="82.7" r="1.45"/><circle cx="610.8" cy="81" r="1.45"/></g>
</g>
<g>
<path class="grid" d="M481.4 261.7L490.6 262.6L499.8 263.5L509 264.5L518.3 265.5L527.6 266.6L536.8 267.5L545.9 268.2L554.8 269.1L563.8 270.3L573 271.1L582.2 272L591.3 273.2L600.7 274.4L610.6 275.3L620.8 276L631.1 276.5L641.6 277L652.7 277.2L663.7 277.4M483.2 272.7L492.6 273.4L501.9 274.2L511.2 275.1L520.6 275.9L530 276.6L539.3 277.1L548.5 277.5L557.6 278.1L566.7 279.3L575.8 280.5L584.9 281.4L594.2 282.3L603.6 282.9L613.5 283.3L623.6 283.5L633.8 283.9L644.2 284.5L654.9 285.1L665.7 285.8M485 283.9L494.5 284.6L504 285.3L513.5 286L523 286.5L532.4 286.9L541.8 287.1L551.2 287.2L560.5 287.5L569.5 288.9L578.6 290.3L587.8 291.3L597.2 291.8L606.8 291.7L616.6 291.2L626.6 290.7L636.8 290.8L646.9 291.7L657.2 292.9L667.6 294.3M487.2 295.5L496.7 296.1L506.3 296.7L515.8 297.3L525.4 297.7L534.9 298L544.3 298L553.7 298L563 298.5L572.3 299.7L581.5 301L590.8 301.9L600.3 301.9L609.9 301L619.8 299.6L629.9 298.3L639.8 298.1L649.7 299.3L659.7 301.2L669.8 303.1M489.5 307.2L499 307.8L508.6 308.4L518.3 308.9L527.9 309.4L537.4 309.7L546.9 309.9L556.3 309.9L565.7 310.4L575.1 311.4L584.4 312.4L593.8 313L603.4 312.7L613.1 311.2L623.1 309.2L633 307.3L642.9 306.6L652.6 308.2L662.3 310.3L672.1 312.5M491.9 319L501.5 319.6L511.1 320.2L520.8 320.8L530.4 321.3L540.1 321.9L549.6 322.4L559.1 322.8L568.5 323.1L578 323.6L587.4 324.2L596.9 324.3L606.5 323.8L616.3 322.3L626.2 320.3L636.1 318.6L645.8 318L655.4 318.9L664.9 320.6L674.7 322.5M494.3 330.8L504 331.5L513.7 332.1L523.4 332.7L533.1 333.4L542.7 334.2L552.4 335L562 335.7L571.5 335.9L581 336L590.5 336.2L600 336L609.7 335.3L619.4 334.1L629.2 332.7L639 331.4L648.7 330.8L658.2 331.1L667.8 332.1L677.4 333.4M496.9 342.7L506.6 343.3L516.3 344L526 344.7L535.7 345.4L545.4 346.2L555.1 347.1L564.7 347.8L574.3 348.2L583.9 348.3L593.5 348.2L603.1 347.9L612.8 347.3L622.5 346.4L632.2 345.6L642 344.7L651.6 344.1L661.2 343.9L670.8 344.3L680.5 345.2M499.6 354.5L509.3 355.2L519 355.8L528.7 356.5L538.4 357.3L548 358L557.7 358.8L567.4 359.6L577.1 360.1L586.8 360.3L596.4 360.2L606.1 359.9L615.8 359.4L625.5 358.9L635.2 358.5L644.9 358L654.5 357.3L664.2 356.8L673.9 356.9L683.6 357.4M481.4 261.7L483.2 272.7L485 283.9L487.2 295.5L489.5 307.2L491.9 319L494.3 330.8L496.9 342.7L499.6 354.5M490.6 262.6L492.6 273.4L494.5 284.6L496.7 296.1L499 307.8L501.5 319.6L504 331.5L506.6 343.3L509.3 355.2M499.8 263.5L501.9 274.2L504 285.3L506.3 296.7L508.6 308.4L511.1 320.2L513.7 332.1L516.3 344L519 355.8M509 264.5L511.2 275.1L513.5 286L515.8 297.3L518.3 308.9L520.8 320.8L523.4 332.7L526 344.7L528.7 356.5M518.3 265.5L520.6 275.9L523 286.5L525.4 297.7L527.9 309.4L530.4 321.3L533.1 333.4L535.7 345.4L538.4 357.3M527.6 266.6L530 276.6L532.4 286.9L534.9 298L537.4 309.7L540.1 321.9L542.7 334.2L545.4 346.2L548 358M536.8 267.5L539.3 277.1L541.8 287.1L544.3 298L546.9 309.9L549.6 322.4L552.4 335L555.1 347.1L557.7 358.8M545.9 268.2L548.5 277.5L551.2 287.2L553.7 298L556.3 309.9L559.1 322.8L562 335.7L564.7 347.8L567.4 359.6M554.8 269.1L557.6 278.1L560.5 287.5L563 298.5L565.7 310.4L568.5 323.1L571.5 335.9L574.3 348.2L577.1 360.1M563.8 270.3L566.7 279.3L569.5 288.9L572.3 299.7L575.1 311.4L578 323.6L581 336L583.9 348.3L586.8 360.3M573 271.1L575.8 280.5L578.6 290.3L581.5 301L584.4 312.4L587.4 324.2L590.5 336.2L593.5 348.2L596.4 360.2M582.2 272L584.9 281.4L587.8 291.3L590.8 301.9L593.8 313L596.9 324.3L600 336L603.1 347.9L606.1 359.9M591.3 273.2L594.2 282.3L597.2 291.8L600.3 301.9L603.4 312.7L606.5 323.8L609.7 335.3L612.8 347.3L615.8 359.4M600.7 274.4L603.6 282.9L606.8 291.7L609.9 301L613.1 311.2L616.3 322.3L619.4 334.1L622.5 346.4L625.5 358.9M610.6 275.3L613.5 283.3L616.6 291.2L619.8 299.6L623.1 309.2L626.2 320.3L629.2 332.7L632.2 345.6L635.2 358.5M620.8 276L623.6 283.5L626.6 290.7L629.9 298.3L633 307.3L636.1 318.6L639 331.4L642 344.7L644.9 358M631.1 276.5L633.8 283.9L636.8 290.8L639.8 298.1L642.9 306.6L645.8 318L648.7 330.8L651.6 344.1L654.5 357.3M641.6 277L644.2 284.5L646.9 291.7L649.7 299.3L652.6 308.2L655.4 318.9L658.2 331.1L661.2 343.9L664.2 356.8M652.7 277.2L654.9 285.1L657.2 292.9L659.7 301.2L662.3 310.3L664.9 320.6L667.8 332.1L670.8 344.3L673.9 356.9M663.7 277.4L665.7 285.8L667.6 294.3L669.8 303.1L672.1 312.5L674.7 322.5L677.4 333.4L680.5 345.2L683.6 357.4"/>
<path class="wire" d="M510.7 284.2L554.5 287.1M554.5 287.1L598.6 290.7M598.6 290.7L624 292.3M624 292.3L636.5 292.9M636.5 292.9L639.7 293.1M510.7 284.2L525.6 293.2M525.6 293.2L551.8 292.3M525.6 293.2L533.9 296M533.9 296L551 301.1M551.8 292.3L551 301.1M554.5 287.1L551.8 292.3M533.9 296L546 306.7M546 306.7L573.3 318.1M551.8 292.3L558.2 301.6M558.2 301.6L573.3 318.1M558.2 301.6L574.2 298.8M574.2 298.8L600.4 313.1M573.3 318.1L607.6 323.7M607.6 323.7L614 315.7M614 315.7L624.3 313.6M624.3 313.6L625.3 303.5M625.3 303.5L624 292.3M625.3 303.5L636.5 292.9M639.7 293.1L638 304M638 304L624.3 313.6M598.6 290.7L598.3 305.3M598.3 305.3L602 310.7M602 310.7L603.9 314.4M603.9 314.4L614 315.7M600.4 313.1L602 310.7"/><g class="lm"><circle cx="510.7" cy="284.2" r="1.45"/><circle cx="554.5" cy="287.1" r="1.45"/><circle cx="525.6" cy="293.2" r="1.45"/><circle cx="551.8" cy="292.3" r="1.45"/><circle cx="533.9" cy="296" r="1.45"/><circle cx="551" cy="301.1" r="1.45"/><circle cx="546" cy="306.7" r="1.45"/><circle cx="558.2" cy="301.6" r="1.45"/><circle cx="574.2" cy="298.8" r="1.45"/><circle cx="573.3" cy="318.1" r="1.45"/><circle cx="598.6" cy="290.7" r="1.45"/><circle cx="624" cy="292.3" r="1.45"/><circle cx="636.5" cy="292.9" r="1.45"/><circle cx="639.7" cy="293.1" r="1.45"/><circle cx="625.3" cy="303.5" r="1.45"/><circle cx="638" cy="304" r="1.45"/><circle cx="624.3" cy="313.6" r="1.45"/><circle cx="598.3" cy="305.3" r="1.45"/><circle cx="600.4" cy="313.1" r="1.45"/><circle cx="602" cy="310.7" r="1.45"/><circle cx="603.9" cy="314.4" r="1.45"/><circle cx="614" cy="315.7" r="1.45"/><circle cx="607.6" cy="323.7" r="1.45"/></g>
</g>
<g>
<path class="grid" d="M3.5 436.8L12.1 436.3L20.6 435.8L29.2 435.3L37.3 435L44.5 434.8L51.1 434.8L57.5 434.8L64.2 434.7L72.2 434.6L80.8 434.5L89.7 434.5L99.2 434.4L109.8 434.4L122.3 434.4L135.8 434.4L149.8 434.4L163.9 434.4L178 434.5L191.9 434.7M4.6 446.1L13.3 445.6L22 445.1L30.6 444.6L38.7 444.3L46 444.1L52.7 444.1L59.2 444.1L66.1 444.2L73.9 444.3L82.4 444.3L91.3 444.4L101 444.4L111.8 444.4L124.1 444.4L137.5 444.3L151.4 444.3L165.5 444.2L179.6 444.1L193.5 444.1M5.6 455.3L14.5 454.8L23.3 454.3L31.9 453.8L40 453.4L47.4 453.3L54.3 453.3L61.1 453.4L68.2 453.7L75.9 454L84.3 454.2L93.4 454.4L103.3 454.5L114.3 454.5L126.4 454.5L139.5 454.5L153.2 454.4L167.2 454.2L181.2 453.9L195.1 453.7M6.9 464.4L15.8 463.9L24.6 463.4L33.2 462.9L41.4 462.6L48.9 462.4L56 462.4L63 462.6L70.2 463.1L78.1 463.6L86.6 464.2L95.8 464.6L105.9 464.8L116.8 464.8L128.8 464.9L141.6 464.9L155.1 464.7L169 464.5L182.9 464.2L196.8 464.1M8.4 473.4L17.2 473L26 472.5L34.6 472L42.8 471.6L50.4 471.4L57.6 471.4L64.7 471.7L72.2 472.2L80.2 473L88.9 474L98.3 474.9L108.4 475.4L119.4 475.4L131.2 475.5L143.8 475.3L157.1 475L170.9 474.8L184.8 474.6L198.6 474.6M9.9 482.4L18.7 482L27.4 481.5L35.9 481.1L44 480.6L51.6 480.3L59 480.2L66.3 480.4L74.1 481L82.3 481.9L91.2 483.3L100.7 484.9L110.9 486.3L121.8 486.4L133.5 485.9L146 485.4L159.1 485.1L172.8 484.9L186.7 484.8L200.5 484.8M11.6 491.4L20.3 491L28.9 490.6L37.3 490L45.2 489.5L52.8 489.1L60.2 488.9L67.8 488.9L75.8 489.2L84.4 490.1L93.4 491.5L103 493.6L113.2 495.8L124.1 496L135.7 495.3L148 494.8L161.1 494.6L174.7 494.5L188.6 494.6L202.5 494.6M13.5 500.3L22.1 499.9L30.5 499.5L38.8 498.9L46.6 498.3L54.1 497.8L61.5 497.4L69.3 497.1L77.6 497.1L86.4 497.5L95.7 498.6L105.3 500.3L115.5 502.1L126.3 503L137.8 503.1L150 503.1L163 503.3L176.6 503.6L190.6 503.8L204.5 504M15.3 509.1L23.8 508.7L32.1 508.3L40.3 507.7L48.2 507L55.6 506.3L63 505.7L71 505.1L79.5 504.8L88.6 504.8L98 505.2L107.7 506.3L117.8 507.5L128.6 509L140.1 510L152.2 510.8L165 511.5L178.6 512.1L192.6 512.7L206.5 513.1M3.5 436.8L4.6 446.1L5.6 455.3L6.9 464.4L8.4 473.4L9.9 482.4L11.6 491.4L13.5 500.3L15.3 509.1M12.1 436.3L13.3 445.6L14.5 454.8L15.8 463.9L17.2 473L18.7 482L20.3 491L22.1 499.9L23.8 508.7M20.6 435.8L22 445.1L23.3 454.3L24.6 463.4L26 472.5L27.4 481.5L28.9 490.6L30.5 499.5L32.1 508.3M29.2 435.3L30.6 444.6L31.9 453.8L33.2 462.9L34.6 472L35.9 481.1L37.3 490L38.8 498.9L40.3 507.7M37.3 435L38.7 444.3L40 453.4L41.4 462.6L42.8 471.6L44 480.6L45.2 489.5L46.6 498.3L48.2 507M44.5 434.8L46 444.1L47.4 453.3L48.9 462.4L50.4 471.4L51.6 480.3L52.8 489.1L54.1 497.8L55.6 506.3M51.1 434.8L52.7 444.1L54.3 453.3L56 462.4L57.6 471.4L59 480.2L60.2 488.9L61.5 497.4L63 505.7M57.5 434.8L59.2 444.1L61.1 453.4L63 462.6L64.7 471.7L66.3 480.4L67.8 488.9L69.3 497.1L71 505.1M64.2 434.7L66.1 444.2L68.2 453.7L70.2 463.1L72.2 472.2L74.1 481L75.8 489.2L77.6 497.1L79.5 504.8M72.2 434.6L73.9 444.3L75.9 454L78.1 463.6L80.2 473L82.3 481.9L84.4 490.1L86.4 497.5L88.6 504.8M80.8 434.5L82.4 444.3L84.3 454.2L86.6 464.2L88.9 474L91.2 483.3L93.4 491.5L95.7 498.6L98 505.2M89.7 434.5L91.3 444.4L93.4 454.4L95.8 464.6L98.3 474.9L100.7 484.9L103 493.6L105.3 500.3L107.7 506.3M99.2 434.4L101 444.4L103.3 454.5L105.9 464.8L108.4 475.4L110.9 486.3L113.2 495.8L115.5 502.1L117.8 507.5M109.8 434.4L111.8 444.4L114.3 454.5L116.8 464.8L119.4 475.4L121.8 486.4L124.1 496L126.3 503L128.6 509M122.3 434.4L124.1 444.4L126.4 454.5L128.8 464.9L131.2 475.5L133.5 485.9L135.7 495.3L137.8 503.1L140.1 510M135.8 434.4L137.5 444.3L139.5 454.5L141.6 464.9L143.8 475.3L146 485.4L148 494.8L150 503.1L152.2 510.8M149.8 434.4L151.4 444.3L153.2 454.4L155.1 464.7L157.1 475L159.1 485.1L161.1 494.6L163 503.3L165 511.5M163.9 434.4L165.5 444.2L167.2 454.2L169 464.5L170.9 474.8L172.8 484.9L174.7 494.5L176.6 503.6L178.6 512.1M178 434.5L179.6 444.1L181.2 453.9L182.9 464.2L184.8 474.6L186.7 484.8L188.6 494.6L190.6 503.8L192.6 512.7M191.9 434.7L193.5 444.1L195.1 453.7L196.8 464.1L198.6 474.6L200.5 484.8L202.5 494.6L204.5 504L206.5 513.1"/>
<path class="wire" d="M30.2 455L61.8 454.5M61.8 454.5L105.8 454.8M105.8 454.8L132.9 454.8M132.9 454.8L149.8 454.8M149.8 454.8L155.9 455M30.2 455L43.7 461.7M43.7 461.7L59.7 460.6M43.7 461.7L54.6 464.9M54.6 464.9L60.2 467M59.7 460.6L60.2 467M61.8 454.5L59.7 460.6M54.6 464.9L58.9 471.7M58.9 471.7L73.9 479.1M59.7 460.6L65 468.1M65 468.1L73.9 479.1M65 468.1L73.9 467.3M73.9 467.3L104.6 483.4M73.9 479.1L114.6 487.8M114.6 487.8L119.1 486.7M119.1 486.7L138.1 482.6M138.1 482.6L138.1 472.5M138.1 472.5L132.9 454.8M138.1 472.5L149.8 454.8M155.9 455L153 472.5M153 472.5L138.1 482.6M105.8 454.8L100 476.4M100 476.4L105.8 481.5M105.8 481.5L109.8 485.6M109.8 485.6L119.1 486.7M104.6 483.4L105.8 481.5"/><g class="lm"><circle cx="30.2" cy="455" r="1.45"/><circle cx="61.8" cy="454.5" r="1.45"/><circle cx="43.7" cy="461.7" r="1.45"/><circle cx="59.7" cy="460.6" r="1.45"/><circle cx="54.6" cy="464.9" r="1.45"/><circle cx="60.2" cy="467" r="1.45"/><circle cx="58.9" cy="471.7" r="1.45"/><circle cx="65" cy="468.1" r="1.45"/><circle cx="73.9" cy="467.3" r="1.45"/><circle cx="73.9" cy="479.1" r="1.45"/><circle cx="105.8" cy="454.8" r="1.45"/><circle cx="132.9" cy="454.8" r="1.45"/><circle cx="149.8" cy="454.8" r="1.45"/><circle cx="155.9" cy="455" r="1.45"/><circle cx="138.1" cy="472.5" r="1.45"/><circle cx="153" cy="472.5" r="1.45"/><circle cx="138.1" cy="482.6" r="1.45"/><circle cx="100" cy="476.4" r="1.45"/><circle cx="104.6" cy="483.4" r="1.45"/><circle cx="105.8" cy="481.5" r="1.45"/><circle cx="109.8" cy="485.6" r="1.45"/><circle cx="119.1" cy="486.7" r="1.45"/><circle cx="114.6" cy="487.8" r="1.45"/></g>
</g>
<g>
<path class="grid" d="M256.9 429L268.2 429.3L279.7 429.6L291.5 430L303.8 430.4L316.9 430.9L330.3 431.3L343.7 431.3L356.9 431.2L369.9 431.2L382.1 431.3L392.9 431.3L402.6 431.4L411.3 431.4L419 431.5L425.6 431.5L431.5 431.6L437.2 431.6L442.8 431.7L448.4 431.7M255.5 439.5L266.8 439.7L278.3 439.9L290.2 440.2L302.6 440.5L315.6 440.9L329 441.2L342.5 441.3L355.7 441.2L368.7 441.1L380.8 441L391.7 440.8L401.5 440.7L410.2 440.6L417.9 440.6L424.5 440.8L430.4 440.9L435.9 441L441.3 441.1L446.8 441.2M254.1 450.2L265.4 450.2L277 450.3L289 450.4L301.4 450.6L314.4 450.9L327.7 451.2L341.1 451.4L354.4 451.3L367.2 451.1L379.2 450.8L390.2 450.4L400 449.9L408.8 449.7L416.5 449.7L423.2 450L429.1 450.3L434.6 450.5L439.9 450.6L445.2 450.7M252.6 460.9L264.1 460.9L275.8 460.8L287.8 460.8L300.3 460.9L313.2 461.2L326.5 461.6L339.8 461.8L352.9 461.8L365.5 461.6L377.5 461L388.4 460.3L398.4 459.5L407.2 459.1L415 459.2L421.8 459.5L427.8 459.9L433.2 460.2L438.3 460.4L443.4 460.6M251.2 471.6L262.8 471.6L274.6 471.5L286.7 471.5L299.1 471.5L312 471.8L325.2 472.3L338.4 472.6L351.4 472.7L363.9 472.5L375.7 471.9L386.7 471L396.7 469.9L405.7 469.1L413.7 469.2L420.5 469.6L426.5 470L431.7 470.3L436.6 470.6L441.5 470.8M249.9 482.4L261.5 482.4L273.4 482.5L285.6 482.5L298.1 482.7L310.9 483L324 483.5L337 483.9L349.8 484.1L362.3 483.9L374.1 483.3L385.1 482.4L395.2 481.3L404.4 480.5L412.4 480.2L419.4 480.3L425.3 480.5L430.3 480.7L434.9 481L439.6 481.2M248.5 493.3L260.2 493.4L272.2 493.6L284.4 493.8L297 494.2L309.9 494.6L322.8 495.1L335.7 495.5L348.3 495.8L360.6 495.8L372.4 495.4L383.6 494.6L393.8 493.5L403.1 492.5L411.4 491.8L418.4 491.4L424.2 491.3L428.9 491.3L433.2 491.5L437.6 491.6M247 504.3L258.9 504.5L270.9 504.8L283.3 505.3L295.9 505.7L308.7 506.2L321.6 506.8L334.2 507.3L346.6 507.7L358.9 507.9L370.8 507.6L382 506.9L392.4 505.9L402 504.6L410.5 503.5L417.5 502.8L423 502.3L427.4 502L431.2 501.8L435.3 501.6M245.6 515.3L257.5 515.7L269.7 516.1L282 516.7L294.6 517.3L307.5 517.8L320.3 518.4L332.6 519L344.8 519.5L357 519.8L368.9 519.7L380.1 519L390.6 518L400.4 516.6L409.1 515.2L416 514.2L421.5 513.4L425.6 512.7L429.2 512.2L433.1 511.7M256.9 429L255.5 439.5L254.1 450.2L252.6 460.9L251.2 471.6L249.9 482.4L248.5 493.3L247 504.3L245.6 515.3M268.2 429.3L266.8 439.7L265.4 450.2L264.1 460.9L262.8 471.6L261.5 482.4L260.2 493.4L258.9 504.5L257.5 515.7M279.7 429.6L278.3 439.9L277 450.3L275.8 460.8L274.6 471.5L273.4 482.5L272.2 493.6L270.9 504.8L269.7 516.1M291.5 430L290.2 440.2L289 450.4L287.8 460.8L286.7 471.5L285.6 482.5L284.4 493.8L283.3 505.3L282 516.7M303.8 430.4L302.6 440.5L301.4 450.6L300.3 460.9L299.1 471.5L298.1 482.7L297 494.2L295.9 505.7L294.6 517.3M316.9 430.9L315.6 440.9L314.4 450.9L313.2 461.2L312 471.8L310.9 483L309.9 494.6L308.7 506.2L307.5 517.8M330.3 431.3L329 441.2L327.7 451.2L326.5 461.6L325.2 472.3L324 483.5L322.8 495.1L321.6 506.8L320.3 518.4M343.7 431.3L342.5 441.3L341.1 451.4L339.8 461.8L338.4 472.6L337 483.9L335.7 495.5L334.2 507.3L332.6 519M356.9 431.2L355.7 441.2L354.4 451.3L352.9 461.8L351.4 472.7L349.8 484.1L348.3 495.8L346.6 507.7L344.8 519.5M369.9 431.2L368.7 441.1L367.2 451.1L365.5 461.6L363.9 472.5L362.3 483.9L360.6 495.8L358.9 507.9L357 519.8M382.1 431.3L380.8 441L379.2 450.8L377.5 461L375.7 471.9L374.1 483.3L372.4 495.4L370.8 507.6L368.9 519.7M392.9 431.3L391.7 440.8L390.2 450.4L388.4 460.3L386.7 471L385.1 482.4L383.6 494.6L382 506.9L380.1 519M402.6 431.4L401.5 440.7L400 449.9L398.4 459.5L396.7 469.9L395.2 481.3L393.8 493.5L392.4 505.9L390.6 518M411.3 431.4L410.2 440.6L408.8 449.7L407.2 459.1L405.7 469.1L404.4 480.5L403.1 492.5L402 504.6L400.4 516.6M419 431.5L417.9 440.6L416.5 449.7L415 459.2L413.7 469.2L412.4 480.2L411.4 491.8L410.5 503.5L409.1 515.2M425.6 431.5L424.5 440.8L423.2 450L421.8 459.5L420.5 469.6L419.4 480.3L418.4 491.4L417.5 502.8L416 514.2M431.5 431.6L430.4 440.9L429.1 450.3L427.8 459.9L426.5 470L425.3 480.5L424.2 491.3L423 502.3L421.5 513.4M437.2 431.6L435.9 441L434.6 450.5L433.2 460.2L431.7 470.3L430.3 480.7L428.9 491.3L427.4 502L425.6 512.7M442.8 431.7L441.3 441.1L439.9 450.6L438.3 460.4L436.6 470.6L434.9 481L433.2 491.5L431.2 501.8L429.2 512.2M448.4 431.7L446.8 441.2L445.2 450.7L443.4 460.6L441.5 470.8L439.6 481.2L437.6 491.6L435.3 501.6L433.1 511.7"/>
<path class="wire" d="M284.5 448.6L349.9 449.9M349.9 449.9L406.6 450.7M406.6 450.7L421.6 451.2M421.6 451.2L428.9 451.5M428.9 451.5L430.3 451.5M284.5 448.6L302.1 455M302.1 455L344.7 453.9M302.1 455L318.7 458.2M318.7 458.2L341.7 460.7M344.7 453.9L341.7 460.7M349.9 449.9L344.7 453.9M318.7 458.2L334.7 466.8M334.7 466.8L360.9 480.4M344.7 453.9L349.2 463.1M349.2 463.1L360.9 480.4M349.2 463.1L361.7 462.3M361.7 462.3L386.9 475.3M360.9 480.4L385 483.9M385 483.9L396.5 478.3M396.5 478.3L417.4 472.7M417.4 472.7L421.4 466.8M421.4 466.8L421.6 451.2M421.4 466.8L428.9 451.5M430.3 451.5L424.6 467.1M424.6 467.1L417.4 472.7M406.6 450.7L391.7 470.4M391.7 470.4L392.2 473.7M392.2 473.7L389.8 475.6M389.8 475.6L396.5 478.3M386.9 475.3L392.2 473.7"/><g class="lm"><circle cx="284.5" cy="448.6" r="1.45"/><circle cx="349.9" cy="449.9" r="1.45"/><circle cx="302.1" cy="455" r="1.45"/><circle cx="344.7" cy="453.9" r="1.45"/><circle cx="318.7" cy="458.2" r="1.45"/><circle cx="341.7" cy="460.7" r="1.45"/><circle cx="334.7" cy="466.8" r="1.45"/><circle cx="349.2" cy="463.1" r="1.45"/><circle cx="361.7" cy="462.3" r="1.45"/><circle cx="360.9" cy="480.4" r="1.45"/><circle cx="406.6" cy="450.7" r="1.45"/><circle cx="421.6" cy="451.2" r="1.45"/><circle cx="428.9" cy="451.5" r="1.45"/><circle cx="430.3" cy="451.5" r="1.45"/><circle cx="421.4" cy="466.8" r="1.45"/><circle cx="424.6" cy="467.1" r="1.45"/><circle cx="417.4" cy="472.7" r="1.45"/><circle cx="391.7" cy="470.4" r="1.45"/><circle cx="386.9" cy="475.3" r="1.45"/><circle cx="392.2" cy="473.7" r="1.45"/><circle cx="389.8" cy="475.6" r="1.45"/><circle cx="396.5" cy="478.3" r="1.45"/><circle cx="385" cy="483.9" r="1.45"/></g>
</g>
<g>
<path class="grid" d="M481.1 961.6L491.8 961.6L502.6 961.6L513.3 961.6L524 961.6L534.8 961.6L545.5 961.6L556.2 961.6L566.9 961.6L577.7 961.6L588.4 961.6L599.1 961.6L609.9 961.6L620.6 961.6L631.3 961.6L642.1 961.6L652.8 961.6L663.5 961.6L674.2 961.6L685 961.6M481.1 972.3L491.8 972.3L502.6 972.3L513.3 972.3L524 972.3L534.8 972.3L545.5 972.3L556.2 972.3L566.9 972.3L577.7 972.3L588.4 972.3L599.1 972.3L609.9 972.3L620.6 972.3L631.3 972.3L642.1 972.3L652.8 972.3L663.5 972.3L674.2 972.3L685 972.3M481.1 983.1L491.8 983.1L502.6 983.1L513.3 983.1L524 983.1L534.8 983.1L545.5 983.1L556.2 983.1L566.9 983.1L577.7 983.1L588.4 983.1L599.1 983.1L609.9 983.1L620.6 983.1L631.3 983.1L642.1 983.1L652.8 983.1L663.5 983.1L674.2 983.1L685 983.1M481.1 993.8L491.8 993.8L502.6 993.8L513.3 993.8L524 993.8L534.8 993.8L545.5 993.8L556.2 993.8L566.9 993.8L577.7 993.8L588.4 993.8L599.1 993.8L609.9 993.8L620.6 993.8L631.3 993.8L642.1 993.8L652.8 993.8L663.5 993.8L674.2 993.8L685 993.8M481.1 1004.5L491.8 1004.5L502.6 1004.5L513.3 1004.5L524 1004.5L534.8 1004.5L545.5 1004.5L556.2 1004.5L566.9 1004.5L577.7 1004.5L588.4 1004.5L599.1 1004.5L609.9 1004.5L620.6 1004.5L631.3 1004.5L642.1 1004.5L652.8 1004.5L663.5 1004.5L674.2 1004.5L685 1004.5M481.1 1015.3L491.8 1015.2L502.6 1015.2L513.3 1015.2L524 1015.2L534.8 1015.2L545.5 1015.2L556.2 1015.2L566.9 1015.2L577.7 1015.2L588.4 1015.2L599.1 1015.2L609.9 1015.2L620.6 1015.2L631.3 1015.2L642.1 1015.2L652.8 1015.2L663.5 1015.2L674.2 1015.3L685 1015.3M481.1 1026L491.8 1026L502.6 1026L513.3 1026L524 1026L534.8 1026L545.5 1026L556.2 1026L566.9 1026L577.7 1026L588.4 1026L599.1 1026L609.9 1026L620.6 1026L631.3 1026L642.1 1026L652.8 1026L663.5 1026L674.2 1026L685 1026M481.1 1036.7L491.8 1036.7L502.6 1036.7L513.3 1036.7L524 1036.7L534.8 1036.7L545.5 1036.7L556.2 1036.7L566.9 1036.7L577.7 1036.7L588.4 1036.7L599.1 1036.7L609.9 1036.7L620.6 1036.7L631.3 1036.7L642.1 1036.7L652.8 1036.7L663.5 1036.7L674.2 1036.7L685 1036.7M481.1 1047.4L491.8 1047.4L502.6 1047.4L513.3 1047.4L524 1047.4L534.8 1047.4L545.5 1047.4L556.2 1047.4L566.9 1047.4L577.7 1047.4L588.4 1047.4L599.1 1047.4L609.9 1047.4L620.6 1047.4L631.3 1047.4L642.1 1047.4L652.8 1047.4L663.5 1047.4L674.2 1047.4L685 1047.4M481.1 961.6L481.1 972.3L481.1 983.1L481.1 993.8L481.1 1004.5L481.1 1015.3L481.1 1026L481.1 1036.7L481.1 1047.4M491.8 961.6L491.8 972.3L491.8 983.1L491.8 993.8L491.8 1004.5L491.8 1015.2L491.8 1026L491.8 1036.7L491.8 1047.4M502.6 961.6L502.6 972.3L502.6 983.1L502.6 993.8L502.6 1004.5L502.6 1015.2L502.6 1026L502.6 1036.7L502.6 1047.4M513.3 961.6L513.3 972.3L513.3 983.1L513.3 993.8L513.3 1004.5L513.3 1015.2L513.3 1026L513.3 1036.7L513.3 1047.4M524 961.6L524 972.3L524 983.1L524 993.8L524 1004.5L524 1015.2L524 1026L524 1036.7L524 1047.4M534.8 961.6L534.8 972.3L534.8 983.1L534.8 993.8L534.8 1004.5L534.8 1015.2L534.8 1026L534.8 1036.7L534.8 1047.4M545.5 961.6L545.5 972.3L545.5 983.1L545.5 993.8L545.5 1004.5L545.5 1015.2L545.5 1026L545.5 1036.7L545.5 1047.4M556.2 961.6L556.2 972.3L556.2 983.1L556.2 993.8L556.2 1004.5L556.2 1015.2L556.2 1026L556.2 1036.7L556.2 1047.4M566.9 961.6L566.9 972.3L566.9 983.1L566.9 993.8L566.9 1004.5L566.9 1015.2L566.9 1026L566.9 1036.7L566.9 1047.4M577.7 961.6L577.7 972.3L577.7 983.1L577.7 993.8L577.7 1004.5L577.7 1015.2L577.7 1026L577.7 1036.7L577.7 1047.4M588.4 961.6L588.4 972.3L588.4 983.1L588.4 993.8L588.4 1004.5L588.4 1015.2L588.4 1026L588.4 1036.7L588.4 1047.4M599.1 961.6L599.1 972.3L599.1 983.1L599.1 993.8L599.1 1004.5L599.1 1015.2L599.1 1026L599.1 1036.7L599.1 1047.4M609.9 961.6L609.9 972.3L609.9 983.1L609.9 993.8L609.9 1004.5L609.9 1015.2L609.9 1026L609.9 1036.7L609.9 1047.4M620.6 961.6L620.6 972.3L620.6 983.1L620.6 993.8L620.6 1004.5L620.6 1015.2L620.6 1026L620.6 1036.7L620.6 1047.4M631.3 961.6L631.3 972.3L631.3 983.1L631.3 993.8L631.3 1004.5L631.3 1015.2L631.3 1026L631.3 1036.7L631.3 1047.4M642.1 961.6L642.1 972.3L642.1 983.1L642.1 993.8L642.1 1004.5L642.1 1015.2L642.1 1026L642.1 1036.7L642.1 1047.4M652.8 961.6L652.8 972.3L652.8 983.1L652.8 993.8L652.8 1004.5L652.8 1015.2L652.8 1026L652.8 1036.7L652.8 1047.4M663.5 961.6L663.5 972.3L663.5 983.1L663.5 993.8L663.5 1004.5L663.5 1015.2L663.5 1026L663.5 1036.7L663.5 1047.4M674.2 961.6L674.2 972.3L674.2 983.1L674.2 993.8L674.2 1004.5L674.2 1015.3L674.2 1026L674.2 1036.7L674.2 1047.4M685 961.6L685 972.3L685 983.1L685 993.8L685 1004.5L685 1015.3L685 1026L685 1036.7L685 1047.4"/>
<path class="wire" d="M510.1 1017.6L514.8 1012.4M514.8 1012.4L523.7 1012.2M523.7 1012.2L540.8 1008.4M540.8 1008.4L554.6 1001.4M554.6 1001.4L565.3 997.7M565.3 997.7L580.9 988.9M580.9 988.9L593.5 986.2M593.5 986.2L613.3 985.5M613.3 985.5L616.5 982M616.5 982L625.3 987.1M625.3 987.1L636.2 988.4M636.2 988.4L645 996.5M645 996.5L648.9 1002.7M648.9 1002.7L651.1 1007.4M651.1 1007.4L655.2 1018.1M510.1 1017.6L521.1 1017.8M521.1 1017.8L540.8 1017.8M540.8 1017.8L565.6 1018.1M565.6 1018.1L576.5 1018.1M576.5 1018.1L597 1018.1M597 1018.1L623.8 1018.1M623.8 1018.1L642.5 1018.1M642.5 1018.1L655.2 1018.1M523.7 1012.2L521.1 1017.8M540.8 1008.4L547 1010.8M540.8 1017.8L550.8 1014.6M550.8 1014.6L565.6 1018.1M565.3 997.7L567.8 1003.2M567.8 1003.2L568.8 1007.6M567.8 1003.2L591.3 1008.2M568.8 1007.6L591.3 1008.2M591.3 1008.2L593.5 1007.5M568.8 1007.6L574.3 1009.5M574.3 1009.5L580.9 1010.8M580.9 1010.8L587.5 1010.2M587.5 1010.2L591.3 1008.2M593.5 1007.5L601.5 1014.1M601.5 1014.1L597 1018.1M571 1014.9L586.8 1015M613.3 985.5L593.5 1007.5M651.1 1007.4L642.5 1018.1M645 996.5L635.2 1010.5M635.2 1010.5L623.4 1014.7M623.4 1014.7L607.7 1013.7M623.4 1014.7L623.8 1018.1M607.7 1013.7L609.2 1002.3M609.2 1002.3L618.7 992.1M618.7 992.1L623.1 990M623.1 990L625.3 987.1"/><g class="lm"><circle cx="510.1" cy="1017.6" r="1.45"/><circle cx="514.8" cy="1012.4" r="1.45"/><circle cx="523.7" cy="1012.2" r="1.45"/><circle cx="521.1" cy="1017.8" r="1.45"/><circle cx="540.8" cy="1008.4" r="1.45"/><circle cx="547" cy="1010.8" r="1.45"/><circle cx="540.8" cy="1017.8" r="1.45"/><circle cx="550.8" cy="1014.6" r="1.45"/><circle cx="554.6" cy="1001.4" r="1.45"/><circle cx="565.3" cy="997.7" r="1.45"/><circle cx="567.8" cy="1003.2" r="1.45"/><circle cx="568.8" cy="1007.6" r="1.45"/><circle cx="574.3" cy="1009.5" r="1.45"/><circle cx="580.9" cy="1010.8" r="1.45"/><circle cx="587.5" cy="1010.2" r="1.45"/><circle cx="593.5" cy="1007.5" r="1.45"/><circle cx="565.6" cy="1018.1" r="1.45"/><circle cx="571" cy="1014.9" r="1.45"/><circle cx="576.5" cy="1018.1" r="1.45"/><circle cx="586.8" cy="1015" r="1.45"/><circle cx="597" cy="1018.1" r="1.45"/><circle cx="601.5" cy="1014.1" r="1.45"/><circle cx="580.9" cy="988.9" r="1.45"/><circle cx="593.5" cy="986.2" r="1.45"/><circle cx="613.3" cy="985.5" r="1.45"/><circle cx="616.5" cy="982" r="1.45"/><circle cx="625.3" cy="987.1" r="1.45"/><circle cx="623.1" cy="990" r="1.45"/><circle cx="618.7" cy="992.1" r="1.45"/><circle cx="636.2" cy="988.4" r="1.45"/><circle cx="645" cy="996.5" r="1.45"/><circle cx="648.9" cy="1002.7" r="1.45"/><circle cx="651.1" cy="1007.4" r="1.45"/><circle cx="655.2" cy="1018.1" r="1.45"/><circle cx="642.5" cy="1018.1" r="1.45"/><circle cx="635.2" cy="1010.5" r="1.45"/><circle cx="623.4" cy="1014.7" r="1.45"/><circle cx="623.8" cy="1018.1" r="1.45"/><circle cx="607.7" cy="1013.7" r="1.45"/><circle cx="609.2" cy="1002.3" r="1.45"/><circle cx="591.3" cy="1008.2" r="1.45"/></g>
</g>
<g>
<path class="grid" d="M481.4 587.5L493.9 587.3L506.6 587.2L519.4 587.1L532 587.2L543.9 587.5L555.3 588L566.5 588.4L577.5 588.8L588.5 589.2L599.1 589.6L609 589.9L618.4 590L627.5 589.9L636.8 589.7L647.3 589.4L657.7 589.1L666.9 588.7L675.6 588.4L684.2 588M482 596.1L494.7 595.8L507.9 595.5L521.2 595.2L534.2 595.1L546.4 595.3L557.7 595.5L568.5 595.9L579 596.4L589.5 596.9L599.7 597.4L609.5 597.8L618.8 598L628 598L637.4 597.8L647.5 597.6L657.5 597.3L666.8 597L675.5 596.7L684.2 596.4M482.7 604.9L495.5 604.3L509.1 603.8L523 603.4L536.6 603.1L549.1 602.9L560.2 603L570.4 603.4L580.2 603.9L590.1 604.6L599.9 605.2L609.6 605.6L619.1 605.9L628.4 606L637.9 605.9L647.6 605.8L657.2 605.6L666.5 605.3L675.3 605.1L684 604.8M483.8 613.7L496.4 613L510 612.3L524.6 611.7L539.2 611.3L551.9 610.8L562.6 610.5L571.9 610.9L580.8 611.6L590.2 612.4L599.9 613.1L609.6 613.6L619.1 613.9L628.6 614L638.1 614L647.6 613.9L657 613.8L666.1 613.6L675 613.4L683.8 613.2M485 622.6L497.3 621.7L510.6 620.9L525.6 620.3L541.6 619.9L554.2 619L564.4 618.3L572.3 618.7L580.6 619.6L589.9 620.5L599.6 621.2L609.4 621.7L619.1 622L628.7 622.1L638.1 622.1L647.5 622.1L656.8 622L665.8 621.8L674.7 621.7L683.5 621.5M486.5 631.6L498.5 630.7L511.2 629.8L525.6 629.1L543 629L554.3 627.8L564.6 626.9L571.4 627.3L579.8 628.3L589.4 629.1L599.3 629.6L609.2 629.9L619 630.2L628.6 630.3L638.1 630.3L647.4 630.3L656.6 630.2L665.6 630.1L674.4 630L683.3 629.9M488.3 640.7L500.3 639.9L512.7 639.1L526.3 638.5L540.4 638.1L552.1 637.3L561.8 636.7L570.2 636.9L579.1 637.5L589 637.9L599.1 638.2L609.1 638.4L618.9 638.5L628.5 638.6L638 638.6L647.3 638.5L656.4 638.4L665.4 638.4L674.2 638.3L683 638.2M490.5 649.6L502.3 649L514.2 648.4L526.1 648L537.8 647.6L548.7 647.2L558.7 646.8L568.4 646.6L578.4 646.7L588.7 646.8L599 646.8L609 646.9L618.7 646.9L628.3 646.9L637.8 646.9L647.2 646.8L656.3 646.7L665.1 646.6L673.8 646.5L682.6 646.4M492.3 658.4L503.8 658L515.1 657.7L525.6 657.4L535.7 657.1L546 656.9L556.1 656.7L566.8 656.3L577.6 655.9L588.3 655.7L598.8 655.6L608.7 655.5L618.4 655.5L628.1 655.4L637.6 655.3L647 655.1L656.1 655L664.9 654.9L673.6 654.8L682.3 654.7M481.4 587.5L482 596.1L482.7 604.9L483.8 613.7L485 622.6L486.5 631.6L488.3 640.7L490.5 649.6L492.3 658.4M493.9 587.3L494.7 595.8L495.5 604.3L496.4 613L497.3 621.7L498.5 630.7L500.3 639.9L502.3 649L503.8 658M506.6 587.2L507.9 595.5L509.1 603.8L510 612.3L510.6 620.9L511.2 629.8L512.7 639.1L514.2 648.4L515.1 657.7M519.4 587.1L521.2 595.2L523 603.4L524.6 611.7L525.6 620.3L525.6 629.1L526.3 638.5L526.1 648L525.6 657.4M532 587.2L534.2 595.1L536.6 603.1L539.2 611.3L541.6 619.9L543 629L540.4 638.1L537.8 647.6L535.7 657.1M543.9 587.5L546.4 595.3L549.1 602.9L551.9 610.8L554.2 619L554.3 627.8L552.1 637.3L548.7 647.2L546 656.9M555.3 588L557.7 595.5L560.2 603L562.6 610.5L564.4 618.3L564.6 626.9L561.8 636.7L558.7 646.8L556.1 656.7M566.5 588.4L568.5 595.9L570.4 603.4L571.9 610.9L572.3 618.7L571.4 627.3L570.2 636.9L568.4 646.6L566.8 656.3M577.5 588.8L579 596.4L580.2 603.9L580.8 611.6L580.6 619.6L579.8 628.3L579.1 637.5L578.4 646.7L577.6 655.9M588.5 589.2L589.5 596.9L590.1 604.6L590.2 612.4L589.9 620.5L589.4 629.1L589 637.9L588.7 646.8L588.3 655.7M599.1 589.6L599.7 597.4L599.9 605.2L599.9 613.1L599.6 621.2L599.3 629.6L599.1 638.2L599 646.8L598.8 655.6M609 589.9L609.5 597.8L609.6 605.6L609.6 613.6L609.4 621.7L609.2 629.9L609.1 638.4L609 646.9L608.7 655.5M618.4 590L618.8 598L619.1 605.9L619.1 613.9L619.1 622L619 630.2L618.9 638.5L618.7 646.9L618.4 655.5M627.5 589.9L628 598L628.4 606L628.6 614L628.7 622.1L628.6 630.3L628.5 638.6L628.3 646.9L628.1 655.4M636.8 589.7L637.4 597.8L637.9 605.9L638.1 614L638.1 622.1L638.1 630.3L638 638.6L637.8 646.9L637.6 655.3M647.3 589.4L647.5 597.6L647.6 605.8L647.6 613.9L647.5 622.1L647.4 630.3L647.3 638.5L647.2 646.8L647 655.1M657.7 589.1L657.5 597.3L657.2 605.6L657 613.8L656.8 622L656.6 630.2L656.4 638.4L656.3 646.7L656.1 655M666.9 588.7L666.8 597L666.5 605.3L666.1 613.6L665.8 621.8L665.6 630.1L665.4 638.4L665.1 646.6L664.9 654.9M675.6 588.4L675.5 596.7L675.3 605.1L675 613.4L674.7 621.7L674.4 630L674.2 638.3L673.8 646.5L673.6 654.8M684.2 588L684.2 596.4L684 604.8L683.8 613.2L683.5 621.5L683.3 629.9L683 638.2L682.6 646.4L682.3 654.7"/>
<path class="wire" d="M524.3 633.5L530.1 628.2M530.1 628.2L543.3 628.2M543.3 628.2L564.6 624.2M564.6 624.2L566.5 619M566.5 619L579.1 613.8M579.1 613.8L596.4 609.7M596.4 609.7L605 609.2M605 609.2L620.4 605.7M620.4 605.7L624 604.4M624 604.4L628 607M628 607L642.4 607.3M642.4 607.3L651 615.3M651 615.3L652.9 621.4M652.9 621.4L655 625.4M655 625.4L656.9 632.7M524.3 633.5L542.1 633.5M542.1 633.5L564.6 633.5M564.6 633.5L581.2 633.2M581.2 633.2L588.7 633M588.7 633L610 633M610 633L632 633M632 633L648.6 632.7M648.6 632.7L656.9 632.7M543.3 628.2L542.1 633.5M564.6 624.2L565.4 627.1M564.6 633.5L571.4 630.6M571.4 630.6L581.2 633.2M579.1 613.8L582.7 619.5M582.7 619.5L585.4 623.7M582.7 619.5L603.6 624.8M585.4 623.7L603.6 624.8M603.6 624.8L605.2 624.2M585.4 623.7L590.6 626.2M590.6 626.2L596.4 627.4M596.4 627.4L601.5 626.6M601.5 626.6L603.6 624.8M605.2 624.2L610.6 629.3M610.6 629.3L610 633M585.9 631.1L600.2 631.1M620.4 605.7L605.2 624.2M655 625.4L648.6 632.7M651 615.3L642.1 627.4M642.1 627.4L631.5 631.7M631.5 631.7L617.1 630.3M631.5 631.7L632 633M617.1 630.3L618 619.3M618 619.3L624.8 610M624.8 610L627.7 609.4M627.7 609.4L628 607"/><g class="lm"><circle cx="524.3" cy="633.5" r="1.45"/><circle cx="530.1" cy="628.2" r="1.45"/><circle cx="543.3" cy="628.2" r="1.45"/><circle cx="542.1" cy="633.5" r="1.45"/><circle cx="564.6" cy="624.2" r="1.45"/><circle cx="565.4" cy="627.1" r="1.45"/><circle cx="564.6" cy="633.5" r="1.45"/><circle cx="571.4" cy="630.6" r="1.45"/><circle cx="566.5" cy="619" r="1.45"/><circle cx="579.1" cy="613.8" r="1.45"/><circle cx="582.7" cy="619.5" r="1.45"/><circle cx="585.4" cy="623.7" r="1.45"/><circle cx="590.6" cy="626.2" r="1.45"/><circle cx="596.4" cy="627.4" r="1.45"/><circle cx="601.5" cy="626.6" r="1.45"/><circle cx="605.2" cy="624.2" r="1.45"/><circle cx="581.2" cy="633.2" r="1.45"/><circle cx="585.9" cy="631.1" r="1.45"/><circle cx="588.7" cy="633" r="1.45"/><circle cx="600.2" cy="631.1" r="1.45"/><circle cx="610" cy="633" r="1.45"/><circle cx="610.6" cy="629.3" r="1.45"/><circle cx="596.4" cy="609.7" r="1.45"/><circle cx="605" cy="609.2" r="1.45"/><circle cx="620.4" cy="605.7" r="1.45"/><circle cx="624" cy="604.4" r="1.45"/><circle cx="628" cy="607" r="1.45"/><circle cx="627.7" cy="609.4" r="1.45"/><circle cx="624.8" cy="610" r="1.45"/><circle cx="642.4" cy="607.3" r="1.45"/><circle cx="651" cy="615.3" r="1.45"/><circle cx="652.9" cy="621.4" r="1.45"/><circle cx="655" cy="625.4" r="1.45"/><circle cx="656.9" cy="632.7" r="1.45"/><circle cx="648.6" cy="632.7" r="1.45"/><circle cx="642.1" cy="627.4" r="1.45"/><circle cx="631.5" cy="631.7" r="1.45"/><circle cx="632" cy="633" r="1.45"/><circle cx="617.1" cy="630.3" r="1.45"/><circle cx="618" cy="619.3" r="1.45"/><circle cx="603.6" cy="624.8" r="1.45"/></g>
</g>
<g>
<path class="grid" d="M499.9 796.7L505.5 796.8L511 797L516.5 797.1L522 797.2L527.4 797.1L533.3 796.9L539.8 796.4L547.3 795.6L556.2 794.5L565.7 793.2L575.3 791.9L585.5 791.3L597.3 792.3L609.5 793.8L621.3 794.7L632.8 795.2L643.6 795.5L654.5 795.6L666 795.6L677.8 795.6M499.5 809.3L504.4 809.6L509 810L513.5 810.2L518.1 810.3L523 810.3L528.7 810.1L535.5 809.7L543.8 809L553.3 808L563.5 806.9L573.7 805.9L584.5 805.5L596.3 806.2L608.5 807.4L620.5 808.2L632.1 808.7L643.4 808.8L654.8 808.8L666.5 808.7L678.5 808.6M499 822L503.1 822.5L506.7 823L510.2 823.3L513.7 823.4L517.9 823.4L523.3 823.3L530.7 822.9L540.1 822.3L550.8 821.6L561.8 820.8L572.8 820.1L583.9 820L595.6 820.4L607.7 821.1L619.7 821.8L631.6 822.1L643.3 822.2L655.1 822.1L667.2 821.8L679.5 821.5M497.7 835.5L501.2 835.8L504 836.1L506.5 836.3L509.2 836.4L512.4 836.4L517.5 836.3L525.5 836L536.4 835.7L548.9 835.2L561 834.8L572.2 834.4L583.4 834.3L595.1 834.6L607.2 835L619.2 835.5L631.1 835.7L643.2 835.7L655.4 835.4L667.9 834.8L680.4 834.2M495.5 848.6L498.4 848.7L500.8 848.9L502.9 849.1L504.8 849.1L507.2 849.1L511.5 849.1L520 849L533.2 848.9L547.9 848.8L561.1 848.6L572.1 848.4L582.8 848.5L594.6 848.6L607 848.9L619 849.1L630.8 849.3L643 849.3L655.6 849L668.4 848.4L681.2 847.5M492.1 860.3L494.8 860.7L497.2 861.2L499.3 861.4L501 861.5L503 861.6L506.5 861.6L515.4 861.7L531.2 861.9L548 862L561.9 862.1L572.2 862.2L582.1 862.3L594.2 862.4L607 862.5L618.8 862.6L630.5 862.7L643 862.7L655.9 862.7L669 862.5L681.9 862.4M488.2 872L491.1 872.5L493.7 873L495.8 873.3L497.6 873.4L500.1 873.6L504.9 873.9L515 874.2L530.7 874.6L547.7 874.9L561.8 875.2L572.4 875.5L582.3 875.6L594 875.7L606.6 875.7L618.5 875.7L630.5 875.7L643.3 875.7L656.6 875.7L670 875.6L683 875.5M484.6 883.9L487.8 884.3L490.6 884.6L492.9 884.9L495.2 885.1L498.9 885.4L505.3 885.8L516.2 886.4L531.5 887L548 887.5L561.9 888L572.5 888.4L582.3 888.6L593.9 888.7L606.4 888.6L618.4 888.5L630.5 888.3L643.7 888.1L657.6 887.9L671.2 887.7L684.4 887.4M481.4 895.8L484.9 896.1L488.2 896.4L491.1 896.6L493.9 896.8L499.1 897.2L506.3 897.8L517.6 898.5L532.8 899.2L548.9 899.9L562.5 900.5L572.5 901L582 901.3L594 901.3L606.7 901.2L618.5 900.9L630.5 900.6L644.2 900.2L658.5 899.8L672.3 899.4L685.5 899M499.9 796.7L499.5 809.3L499 822L497.7 835.5L495.5 848.6L492.1 860.3L488.2 872L484.6 883.9L481.4 895.8M505.5 796.8L504.4 809.6L503.1 822.5L501.2 835.8L498.4 848.7L494.8 860.7L491.1 872.5L487.8 884.3L484.9 896.1M511 797L509 810L506.7 823L504 836.1L500.8 848.9L497.2 861.2L493.7 873L490.6 884.6L488.2 896.4M516.5 797.1L513.5 810.2L510.2 823.3L506.5 836.3L502.9 849.1L499.3 861.4L495.8 873.3L492.9 884.9L491.1 896.6M522 797.2L518.1 810.3L513.7 823.4L509.2 836.4L504.8 849.1L501 861.5L497.6 873.4L495.2 885.1L493.9 896.8M527.4 797.1L523 810.3L517.9 823.4L512.4 836.4L507.2 849.1L503 861.6L500.1 873.6L498.9 885.4L499.1 897.2M533.3 796.9L528.7 810.1L523.3 823.3L517.5 836.3L511.5 849.1L506.5 861.6L504.9 873.9L505.3 885.8L506.3 897.8M539.8 796.4L535.5 809.7L530.7 822.9L525.5 836L520 849L515.4 861.7L515 874.2L516.2 886.4L517.6 898.5M547.3 795.6L543.8 809L540.1 822.3L536.4 835.7L533.2 848.9L531.2 861.9L530.7 874.6L531.5 887L532.8 899.2M556.2 794.5L553.3 808L550.8 821.6L548.9 835.2L547.9 848.8L548 862L547.7 874.9L548 887.5L548.9 899.9M565.7 793.2L563.5 806.9L561.8 820.8L561 834.8L561.1 848.6L561.9 862.1L561.8 875.2L561.9 888L562.5 900.5M575.3 791.9L573.7 805.9L572.8 820.1L572.2 834.4L572.1 848.4L572.2 862.2L572.4 875.5L572.5 888.4L572.5 901M585.5 791.3L584.5 805.5L583.9 820L583.4 834.3L582.8 848.5L582.1 862.3L582.3 875.6L582.3 888.6L582 901.3M597.3 792.3L596.3 806.2L595.6 820.4L595.1 834.6L594.6 848.6L594.2 862.4L594 875.7L593.9 888.7L594 901.3M609.5 793.8L608.5 807.4L607.7 821.1L607.2 835L607 848.9L607 862.5L606.6 875.7L606.4 888.6L606.7 901.2M621.3 794.7L620.5 808.2L619.7 821.8L619.2 835.5L619 849.1L618.8 862.6L618.5 875.7L618.4 888.5L618.5 900.9M632.8 795.2L632.1 808.7L631.6 822.1L631.1 835.7L630.8 849.3L630.5 862.7L630.5 875.7L630.5 888.3L630.5 900.6M643.6 795.5L643.4 808.8L643.3 822.2L643.2 835.7L643 849.3L643 862.7L643.3 875.7L643.7 888.1L644.2 900.2M654.5 795.6L654.8 808.8L655.1 822.1L655.4 835.4L655.6 849L655.9 862.7L656.6 875.7L657.6 887.9L658.5 899.8M666 795.6L666.5 808.7L667.2 821.8L667.9 834.8L668.4 848.4L669 862.5L670 875.6L671.2 887.7L672.3 899.4M677.8 795.6L678.5 808.6L679.5 821.5L680.4 834.2L681.2 847.5L681.9 862.4L683 875.5L684.4 887.4L685.5 899"/>
<path class="wire" d="M499.4 862.8L504 857.5M504 857.5L510.6 854.9M510.6 854.9L511.2 854.6M511.2 854.6L543.6 844.4M543.6 844.4L551 843.7M551 843.7L561.7 828.1M561.7 828.1L578.8 822.4M578.8 822.4L602.8 827.4M602.8 827.4L606.3 821.6M606.3 821.6L620.8 829M620.8 829L625.3 831.8M625.3 831.8L632.8 838.5M632.8 838.5L639.2 845.1M639.2 845.1L642.8 850.7M642.8 850.7L650.2 864.7M499.4 862.8L501.8 862.6M501.8 862.6L511.2 863.3M511.2 863.3L547.7 863.8M547.7 863.8L563.7 863.9M563.7 863.9L578.6 864.1M578.6 864.1L611.1 864.4M611.1 864.4L630.7 864.7M630.7 864.7L650.2 864.7M510.6 854.9L501.8 862.6M511.2 854.6L526.6 855.4M511.2 863.3L525.8 859.8M525.8 859.8L547.7 863.8M551 843.7L551 848.3M551 848.3L548.7 852.2M551 848.3L575 851.3M548.7 852.2L575 851.3M575 851.3L578.6 851.7M548.7 852.2L554 853.9M554 853.9L561.5 854.4M561.5 854.4L569.1 853.7M569.1 853.7L575 851.3M578.6 851.7L590 860M590 860L578.6 864.1M552.8 859.2L569.4 859.2M602.8 827.4L578.6 851.7M642.8 850.7L630.7 864.7M632.8 838.5L624 855M624 855L609.8 858.3M609.8 858.3L595.6 857.4M609.8 858.3L611.1 864.4M595.6 857.4L597.3 846.6M597.3 846.6L609.8 836.3M609.8 836.3L617.1 832.9M617.1 832.9L620.8 829"/><g class="lm"><circle cx="499.4" cy="862.8" r="1.45"/><circle cx="504" cy="857.5" r="1.45"/><circle cx="510.6" cy="854.9" r="1.45"/><circle cx="501.8" cy="862.6" r="1.45"/><circle cx="511.2" cy="854.6" r="1.45"/><circle cx="526.6" cy="855.4" r="1.45"/><circle cx="511.2" cy="863.3" r="1.45"/><circle cx="525.8" cy="859.8" r="1.45"/><circle cx="543.6" cy="844.4" r="1.45"/><circle cx="551" cy="843.7" r="1.45"/><circle cx="551" cy="848.3" r="1.45"/><circle cx="548.7" cy="852.2" r="1.45"/><circle cx="554" cy="853.9" r="1.45"/><circle cx="561.5" cy="854.4" r="1.45"/><circle cx="569.1" cy="853.7" r="1.45"/><circle cx="575" cy="851.3" r="1.45"/><circle cx="578.6" cy="851.7" r="1.45"/><circle cx="547.7" cy="863.8" r="1.45"/><circle cx="552.8" cy="859.2" r="1.45"/><circle cx="563.7" cy="863.9" r="1.45"/><circle cx="569.4" cy="859.2" r="1.45"/><circle cx="578.6" cy="864.1" r="1.45"/><circle cx="590" cy="860" r="1.45"/><circle cx="561.7" cy="828.1" r="1.45"/><circle cx="578.8" cy="822.4" r="1.45"/><circle cx="602.8" cy="827.4" r="1.45"/><circle cx="606.3" cy="821.6" r="1.45"/><circle cx="620.8" cy="829" r="1.45"/><circle cx="617.1" cy="832.9" r="1.45"/><circle cx="609.8" cy="836.3" r="1.45"/><circle cx="625.3" cy="831.8" r="1.45"/><circle cx="632.8" cy="838.5" r="1.45"/><circle cx="639.2" cy="845.1" r="1.45"/><circle cx="642.8" cy="850.7" r="1.45"/><circle cx="650.2" cy="864.7" r="1.45"/><circle cx="630.7" cy="864.7" r="1.45"/><circle cx="624" cy="855" r="1.45"/><circle cx="609.8" cy="858.3" r="1.45"/><circle cx="611.1" cy="864.4" r="1.45"/><circle cx="595.6" cy="857.4" r="1.45"/><circle cx="597.3" cy="846.6" r="1.45"/></g>
</g>
<g>
<path class="grid" d="M5.9 952L16.7 951.6L27.6 951.2L38.6 950.8L49.8 950.4L61.5 950.1L73.9 949.9L87.5 949.8L101 949.9L112.9 950.4L124.1 951.2L135.6 952.7L146.6 954.4L156.5 955.9L165.8 957.2L174.9 958L183.5 958.4L191.1 958.4L198.2 958.3L205.2 958M5.9 965.1L16.7 964.7L27.7 964.3L38.7 963.9L50.1 963.6L62 963.3L74.6 963.1L88 963L101.2 963.1L113.4 963.4L124.9 964.1L136.2 965.2L147 966.6L157 967.9L166.4 968.9L175.3 969.5L183.5 969.8L191 969.7L198 969.5L204.8 969.2M5.9 978.2L16.8 977.8L27.8 977.5L39 977.3L50.6 977L62.7 976.8L75.3 976.6L88.4 976.5L101.4 976.5L113.6 976.7L125.3 977.1L136.5 977.8L147.3 978.7L157.3 979.6L166.7 980.2L175.4 980.7L183.5 980.8L190.8 980.7L197.7 980.4L204.4 980.1M5.8 991.2L16.7 991L27.8 990.9L39.1 990.7L50.9 990.6L63 990.4L75.7 990.2L88.6 990.1L101.4 990L113.6 990L125.2 990L136.5 990.3L147.2 990.8L157.3 991.2L166.7 991.5L175.4 991.6L183.4 991.7L190.6 991.5L197.4 991.3L204.1 991M5.6 1004.5L16.5 1004.4L27.7 1004.4L39.1 1004.3L50.8 1004.2L63 1004L75.5 1003.8L88.3 1003.6L101 1003.4L113 1003L124.7 1002.8L136 1002.6L146.8 1002.6L157.1 1002.6L166.6 1002.5L175.3 1002.5L183.3 1002.4L190.4 1002.2L197.1 1002.1L203.6 1001.8M5.1 1018.4L16.1 1018.2L27.3 1018.1L38.7 1017.9L50.4 1017.7L62.5 1017.5L74.9 1017.2L87.4 1016.9L99.8 1016.4L111.8 1015.8L123.5 1015.2L134.9 1014.6L145.9 1014.2L156.4 1013.8L166.2 1013.5L175.2 1013.2L183.2 1013L190.3 1012.9L196.7 1012.8L202.8 1012.8M4.6 1032.3L15.6 1032L26.8 1031.7L38.1 1031.5L49.7 1031.2L61.6 1030.9L73.7 1030.4L86 1029.9L98.2 1029.1L110.2 1028.2L121.9 1027.3L133.4 1026.4L144.6 1025.6L155.5 1024.9L165.7 1024.3L174.9 1023.8L183.2 1023.5L190.2 1023.3L196.3 1023.4L202 1023.5M4.2 1045.7L15.2 1045.5L26.3 1045.1L37.5 1044.8L48.9 1044.5L60.5 1044L72.4 1043.4L84.4 1042.6L96.4 1041.7L108.3 1040.5L120 1039.2L131.6 1038L143 1036.9L154.3 1035.9L164.9 1035.1L174.5 1034.4L183 1034L190.3 1033.6L196 1033.6L201.4 1033.6M3.9 1058.8L14.8 1058.5L25.7 1058.2L36.8 1057.8L48 1057.4L59.4 1056.9L71.1 1056.1L82.9 1055.2L94.7 1054L106.5 1052.6L118.2 1051.1L129.8 1049.7L141.3 1048.3L152.8 1047.1L163.8 1046L173.6 1045.2L182.4 1044.6L190.1 1044L195.6 1043.8L200.7 1043.7M5.9 952L5.9 965.1L5.9 978.2L5.8 991.2L5.6 1004.5L5.1 1018.4L4.6 1032.3L4.2 1045.7L3.9 1058.8M16.7 951.6L16.7 964.7L16.8 977.8L16.7 991L16.5 1004.4L16.1 1018.2L15.6 1032L15.2 1045.5L14.8 1058.5M27.6 951.2L27.7 964.3L27.8 977.5L27.8 990.9L27.7 1004.4L27.3 1018.1L26.8 1031.7L26.3 1045.1L25.7 1058.2M38.6 950.8L38.7 963.9L39 977.3L39.1 990.7L39.1 1004.3L38.7 1017.9L38.1 1031.5L37.5 1044.8L36.8 1057.8M49.8 950.4L50.1 963.6L50.6 977L50.9 990.6L50.8 1004.2L50.4 1017.7L49.7 1031.2L48.9 1044.5L48 1057.4M61.5 950.1L62 963.3L62.7 976.8L63 990.4L63 1004L62.5 1017.5L61.6 1030.9L60.5 1044L59.4 1056.9M73.9 949.9L74.6 963.1L75.3 976.6L75.7 990.2L75.5 1003.8L74.9 1017.2L73.7 1030.4L72.4 1043.4L71.1 1056.1M87.5 949.8L88 963L88.4 976.5L88.6 990.1L88.3 1003.6L87.4 1016.9L86 1029.9L84.4 1042.6L82.9 1055.2M101 949.9L101.2 963.1L101.4 976.5L101.4 990L101 1003.4L99.8 1016.4L98.2 1029.1L96.4 1041.7L94.7 1054M112.9 950.4L113.4 963.4L113.6 976.7L113.6 990L113 1003L111.8 1015.8L110.2 1028.2L108.3 1040.5L106.5 1052.6M124.1 951.2L124.9 964.1L125.3 977.1L125.2 990L124.7 1002.8L123.5 1015.2L121.9 1027.3L120 1039.2L118.2 1051.1M135.6 952.7L136.2 965.2L136.5 977.8L136.5 990.3L136 1002.6L134.9 1014.6L133.4 1026.4L131.6 1038L129.8 1049.7M146.6 954.4L147 966.6L147.3 978.7L147.2 990.8L146.8 1002.6L145.9 1014.2L144.6 1025.6L143 1036.9L141.3 1048.3M156.5 955.9L157 967.9L157.3 979.6L157.3 991.2L157.1 1002.6L156.4 1013.8L155.5 1024.9L154.3 1035.9L152.8 1047.1M165.8 957.2L166.4 968.9L166.7 980.2L166.7 991.5L166.6 1002.5L166.2 1013.5L165.7 1024.3L164.9 1035.1L163.8 1046M174.9 958L175.3 969.5L175.4 980.7L175.4 991.6L175.3 1002.5L175.2 1013.2L174.9 1023.8L174.5 1034.4L173.6 1045.2M183.5 958.4L183.5 969.8L183.5 980.8L183.4 991.7L183.3 1002.4L183.2 1013L183.2 1023.5L183 1034L182.4 1044.6M191.1 958.4L191 969.7L190.8 980.7L190.6 991.5L190.4 1002.2L190.3 1012.9L190.2 1023.3L190.3 1033.6L190.1 1044M198.2 958.3L198 969.5L197.7 980.4L197.4 991.3L197.1 1002.1L196.7 1012.8L196.3 1023.4L196 1033.6L195.6 1043.8M205.2 958L204.8 969.2L204.4 980.1L204.1 991L203.6 1001.8L202.8 1012.8L202 1023.5L201.4 1033.6L200.7 1043.7"/>
<path class="wire" d="M34 1023L39.3 1016.6M39.3 1016.6L49.3 1014.6M49.3 1014.6L62.6 1010.6M62.6 1010.6L81.4 999.1M81.4 999.1L96.4 999.7M96.4 999.7L120.1 984.1M120.1 984.1L133.2 981.7M133.2 981.7L148.2 989M148.2 989L153 982.8M153 982.8L164.2 993.3M164.2 993.3L173.4 993M173.4 993L180.6 998.6M180.6 998.6L184.3 1005.3M184.3 1005.3L186.4 1010.6M186.4 1010.6L185.1 1017.4M34 1023L46.1 1022.7M46.1 1022.7L62.6 1021.9M62.6 1021.9L101.6 1021.2M101.6 1021.2L117.7 1021.1M117.7 1021.1L138.9 1019.8M138.9 1019.8L164.2 1018.7M164.2 1018.7L183 1018.2M183 1018.2L185.1 1017.4M49.3 1014.6L46.1 1022.7M62.6 1010.6L75.8 1013.5M62.6 1021.9L77.6 1017.5M77.6 1017.5L101.6 1021.2M96.4 999.7L99.9 1004.7M99.9 1004.7L103.4 1010M99.9 1004.7L131.6 1009.5M103.4 1010L131.6 1009.5M131.6 1009.5L134 1009.5M103.4 1010L112.8 1011.8M112.8 1011.8L120.9 1011.8M120.9 1011.8L127.6 1011.1M127.6 1011.1L131.6 1009.5M134 1009.5L147.7 1016.2M147.7 1016.2L138.9 1019.8M107.4 1017.1L128.6 1016.1M148.2 989L134 1009.5M186.4 1010.6L183 1018.2M180.6 998.6L173.9 1010.6M173.9 1010.6L163.8 1014.3M163.8 1014.3L149.8 1017.5M163.8 1014.3L164.2 1018.7M149.8 1017.5L150.9 1005.3M150.9 1005.3L158.1 998.3M158.1 998.3L163.1 995.7M163.1 995.7L164.2 993.3"/><g class="lm"><circle cx="34" cy="1023" r="1.45"/><circle cx="39.3" cy="1016.6" r="1.45"/><circle cx="49.3" cy="1014.6" r="1.45"/><circle cx="46.1" cy="1022.7" r="1.45"/><circle cx="62.6" cy="1010.6" r="1.45"/><circle cx="75.8" cy="1013.5" r="1.45"/><circle cx="62.6" cy="1021.9" r="1.45"/><circle cx="77.6" cy="1017.5" r="1.45"/><circle cx="81.4" cy="999.1" r="1.45"/><circle cx="96.4" cy="999.7" r="1.45"/><circle cx="99.9" cy="1004.7" r="1.45"/><circle cx="103.4" cy="1010" r="1.45"/><circle cx="112.8" cy="1011.8" r="1.45"/><circle cx="120.9" cy="1011.8" r="1.45"/><circle cx="127.6" cy="1011.1" r="1.45"/><circle cx="131.6" cy="1009.5" r="1.45"/><circle cx="134" cy="1009.5" r="1.45"/><circle cx="101.6" cy="1021.2" r="1.45"/><circle cx="107.4" cy="1017.1" r="1.45"/><circle cx="117.7" cy="1021.1" r="1.45"/><circle cx="128.6" cy="1016.1" r="1.45"/><circle cx="138.9" cy="1019.8" r="1.45"/><circle cx="147.7" cy="1016.2" r="1.45"/><circle cx="120.1" cy="984.1" r="1.45"/><circle cx="133.2" cy="981.7" r="1.45"/><circle cx="148.2" cy="989" r="1.45"/><circle cx="153" cy="982.8" r="1.45"/><circle cx="164.2" cy="993.3" r="1.45"/><circle cx="163.1" cy="995.7" r="1.45"/><circle cx="158.1" cy="998.3" r="1.45"/><circle cx="173.4" cy="993" r="1.45"/><circle cx="180.6" cy="998.6" r="1.45"/><circle cx="184.3" cy="1005.3" r="1.45"/><circle cx="186.4" cy="1010.6" r="1.45"/><circle cx="185.1" cy="1017.4" r="1.45"/><circle cx="183" cy="1018.2" r="1.45"/><circle cx="173.9" cy="1010.6" r="1.45"/><circle cx="163.8" cy="1014.3" r="1.45"/><circle cx="164.2" cy="1018.7" r="1.45"/><circle cx="149.8" cy="1017.5" r="1.45"/><circle cx="150.9" cy="1005.3" r="1.45"/></g>
</g>
<g>
<path class="grid" d="M245.1 967.7L255.5 968.1L266 968.6L276.6 969L286.9 969.5L296.6 970L305.8 970.5L314.7 971L323.5 971.2L332.2 970.7L341.4 969.8L352.1 968.6L363.3 967.2L373.9 965.7L384.6 964.5L395.8 963.8L407.4 963.5L419.6 963.4L432.1 963.4L444.4 963.5M245.3 976.2L255.7 976.6L266.2 977L276.6 977.4L286.8 977.9L296.5 978.3L305.8 978.8L314.7 979.2L323.5 979.2L332.3 978.7L341.7 977.7L352.2 976.4L363.2 974.9L374 973.5L384.9 972.6L396.1 972.2L407.8 972.1L420 972.3L432.4 972.5L444.7 972.8M245.4 984.6L255.9 985L266.3 985.4L276.6 985.8L286.7 986.2L296.3 986.6L305.6 987L314.6 987.2L323.5 987.1L332.6 986.5L342.1 985.5L352.4 984.2L363.3 982.7L374.2 981.5L385.2 981L396.5 980.9L408.3 981L420.4 981.3L432.7 981.8L445 982.2M245.6 993L256 993.4L266.3 993.8L276.5 994.2L286.5 994.6L296.2 994.9L305.5 995.2L314.6 995.3L323.7 995.1L332.8 994.5L342.4 993.5L352.6 992.3L363.3 991.1L374.3 990.2L385.4 989.8L396.9 989.8L408.7 990.1L420.9 990.6L433.1 991.1L445.2 991.6M245.7 1001.4L256.1 1001.8L266.4 1002.2L276.6 1002.5L286.5 1002.9L296.2 1003.2L305.6 1003.5L314.8 1003.5L323.9 1003.3L333.2 1002.8L342.7 1001.9L352.7 1000.9L363.2 999.9L374.2 999.2L385.5 998.9L397.2 999L409.3 999.5L421.4 1000L433.6 1000.5L445.6 1001M245.8 1009.9L256.2 1010.2L266.5 1010.6L276.7 1011L286.7 1011.3L296.4 1011.6L305.9 1011.9L315.2 1012L324.4 1011.8L333.7 1011.4L343.2 1010.7L352.9 1009.8L363 1008.8L373.8 1008.2L385.6 1008.2L397.9 1008.6L410.1 1009L422.3 1009.6L434.3 1010L446.2 1010.5M246 1018.4L256.4 1018.7L266.7 1019.1L276.9 1019.4L287 1019.8L296.9 1020.2L306.5 1020.4L315.9 1020.6L325.2 1020.6L334.6 1020.4L344.2 1019.9L353.9 1019.2L363.7 1018.3L374.3 1017.8L386.6 1018.1L399.2 1018.5L411.5 1018.9L423.5 1019.3L435.3 1019.7L447 1020M246.1 1026.9L256.5 1027.3L266.9 1027.6L277.3 1028L287.6 1028.4L297.6 1028.8L307.3 1029.2L316.8 1029.5L326.2 1029.7L335.8 1029.7L345.8 1029.6L356 1029.2L366.3 1028.7L377.2 1028.4L389.1 1028.5L401.3 1028.8L413.4 1029L425 1029.2L436.5 1029.4L447.9 1029.6M246.4 1035.5L256.8 1035.9L267.3 1036.3L277.8 1036.7L288.2 1037.1L298.4 1037.6L308.3 1038.1L317.9 1038.5L327.5 1038.9L337.5 1039.2L347.8 1039.4L358.6 1039.4L369.7 1039.3L380.7 1039.2L392.2 1039.2L403.9 1039.1L415.5 1039.1L426.7 1039.1L437.8 1039.1L448.9 1039.2M245.1 967.7L245.3 976.2L245.4 984.6L245.6 993L245.7 1001.4L245.8 1009.9L246 1018.4L246.1 1026.9L246.4 1035.5M255.5 968.1L255.7 976.6L255.9 985L256 993.4L256.1 1001.8L256.2 1010.2L256.4 1018.7L256.5 1027.3L256.8 1035.9M266 968.6L266.2 977L266.3 985.4L266.3 993.8L266.4 1002.2L266.5 1010.6L266.7 1019.1L266.9 1027.6L267.3 1036.3M276.6 969L276.6 977.4L276.6 985.8L276.5 994.2L276.6 1002.5L276.7 1011L276.9 1019.4L277.3 1028L277.8 1036.7M286.9 969.5L286.8 977.9L286.7 986.2L286.5 994.6L286.5 1002.9L286.7 1011.3L287 1019.8L287.6 1028.4L288.2 1037.1M296.6 970L296.5 978.3L296.3 986.6L296.2 994.9L296.2 1003.2L296.4 1011.6L296.9 1020.2L297.6 1028.8L298.4 1037.6M305.8 970.5L305.8 978.8L305.6 987L305.5 995.2L305.6 1003.5L305.9 1011.9L306.5 1020.4L307.3 1029.2L308.3 1038.1M314.7 971L314.7 979.2L314.6 987.2L314.6 995.3L314.8 1003.5L315.2 1012L315.9 1020.6L316.8 1029.5L317.9 1038.5M323.5 971.2L323.5 979.2L323.5 987.1L323.7 995.1L323.9 1003.3L324.4 1011.8L325.2 1020.6L326.2 1029.7L327.5 1038.9M332.2 970.7L332.3 978.7L332.6 986.5L332.8 994.5L333.2 1002.8L333.7 1011.4L334.6 1020.4L335.8 1029.7L337.5 1039.2M341.4 969.8L341.7 977.7L342.1 985.5L342.4 993.5L342.7 1001.9L343.2 1010.7L344.2 1019.9L345.8 1029.6L347.8 1039.4M352.1 968.6L352.2 976.4L352.4 984.2L352.6 992.3L352.7 1000.9L352.9 1009.8L353.9 1019.2L356 1029.2L358.6 1039.4M363.3 967.2L363.2 974.9L363.3 982.7L363.3 991.1L363.2 999.9L363 1008.8L363.7 1018.3L366.3 1028.7L369.7 1039.3M373.9 965.7L374 973.5L374.2 981.5L374.3 990.2L374.2 999.2L373.8 1008.2L374.3 1017.8L377.2 1028.4L380.7 1039.2M384.6 964.5L384.9 972.6L385.2 981L385.4 989.8L385.5 998.9L385.6 1008.2L386.6 1018.1L389.1 1028.5L392.2 1039.2M395.8 963.8L396.1 972.2L396.5 980.9L396.9 989.8L397.2 999L397.9 1008.6L399.2 1018.5L401.3 1028.8L403.9 1039.1M407.4 963.5L407.8 972.1L408.3 981L408.7 990.1L409.3 999.5L410.1 1009L411.5 1018.9L413.4 1029L415.5 1039.1M419.6 963.4L420 972.3L420.4 981.3L420.9 990.6L421.4 1000L422.3 1009.6L423.5 1019.3L425 1029.2L426.7 1039.1M432.1 963.4L432.4 972.5L432.7 981.8L433.1 991.1L433.6 1000.5L434.3 1010L435.3 1019.7L436.5 1029.4L437.8 1039.1M444.4 963.5L444.7 972.8L445 982.2L445.2 991.6L445.6 1001L446.2 1010.5L447 1020L447.9 1029.6L448.9 1039.2"/>
<path class="wire" d="M273.4 1012.7L277.7 1008.5M277.7 1008.5L286.1 1008.5M286.1 1008.5L304.2 1005.8M304.2 1005.8L315 1001.3M315 1001.3L322.7 994.5M322.7 994.5L333.6 990.2M333.6 990.2L345 987.8M345 987.8L366.5 983M366.5 983L369.2 981.4M369.2 981.4L376.1 982.5M376.1 982.5L388.2 984.6M388.2 984.6L397 993.7M397 993.7L401 999.3M401 999.3L403.9 1003.8M403.9 1003.8L411.1 1016.5M273.4 1012.7L283.4 1013M283.4 1013L304.2 1013.5M304.2 1013.5L319.8 1014.6M319.8 1014.6L328 1014.9M328 1014.9L346.6 1015.1M346.6 1015.1L373.7 1015.9M373.7 1015.9L391.4 1016.2M391.4 1016.2L411.1 1016.5M286.1 1008.5L283.4 1013M304.2 1005.8L305.8 1007.1M304.2 1013.5L311.1 1011.1M311.1 1011.1L319.8 1014.6M322.7 994.5L324.8 1000.6M324.8 1000.6L324 1004.2M324.8 1000.6L342.8 1005.4M324 1004.2L342.8 1005.4M342.8 1005.4L344.6 1004.4M324 1004.2L327.2 1006.9M327.2 1006.9L332.8 1007.9M332.8 1007.9L338.8 1007.9M338.8 1007.9L342.8 1005.4M344.6 1004.4L349 1011.1M349 1011.1L346.6 1015.1M324.8 1011.7L336.8 1012.2M366.5 983L344.6 1004.4M403.9 1003.8L391.4 1016.2M397 993.7L386.3 1009M386.3 1009L372.9 1012.7M372.9 1012.7L357.7 1009.5M372.9 1012.7L373.7 1015.9M357.7 1009.5L359 999M359 999L369.4 987M369.4 987L373.7 985.7M373.7 985.7L376.1 982.5"/><g class="lm"><circle cx="273.4" cy="1012.7" r="1.45"/><circle cx="277.7" cy="1008.5" r="1.45"/><circle cx="286.1" cy="1008.5" r="1.45"/><circle cx="283.4" cy="1013" r="1.45"/><circle cx="304.2" cy="1005.8" r="1.45"/><circle cx="305.8" cy="1007.1" r="1.45"/><circle cx="304.2" cy="1013.5" r="1.45"/><circle cx="311.1" cy="1011.1" r="1.45"/><circle cx="315" cy="1001.3" r="1.45"/><circle cx="322.7" cy="994.5" r="1.45"/><circle cx="324.8" cy="1000.6" r="1.45"/><circle cx="324" cy="1004.2" r="1.45"/><circle cx="327.2" cy="1006.9" r="1.45"/><circle cx="332.8" cy="1007.9" r="1.45"/><circle cx="338.8" cy="1007.9" r="1.45"/><circle cx="342.8" cy="1005.4" r="1.45"/><circle cx="344.6" cy="1004.4" r="1.45"/><circle cx="319.8" cy="1014.6" r="1.45"/><circle cx="324.8" cy="1011.7" r="1.45"/><circle cx="328" cy="1014.9" r="1.45"/><circle cx="336.8" cy="1012.2" r="1.45"/><circle cx="346.6" cy="1015.1" r="1.45"/><circle cx="349" cy="1011.1" r="1.45"/><circle cx="333.6" cy="990.2" r="1.45"/><circle cx="345" cy="987.8" r="1.45"/><circle cx="366.5" cy="983" r="1.45"/><circle cx="369.2" cy="981.4" r="1.45"/><circle cx="376.1" cy="982.5" r="1.45"/><circle cx="373.7" cy="985.7" r="1.45"/><circle cx="369.4" cy="987" r="1.45"/><circle cx="388.2" cy="984.6" r="1.45"/><circle cx="397" cy="993.7" r="1.45"/><circle cx="401" cy="999.3" r="1.45"/><circle cx="403.9" cy="1003.8" r="1.45"/><circle cx="411.1" cy="1016.5" r="1.45"/><circle cx="391.4" cy="1016.2" r="1.45"/><circle cx="386.3" cy="1009" r="1.45"/><circle cx="372.9" cy="1012.7" r="1.45"/><circle cx="373.7" cy="1015.9" r="1.45"/><circle cx="357.7" cy="1009.5" r="1.45"/><circle cx="359" cy="999" r="1.45"/></g>
</g>
</svg></body></html>
